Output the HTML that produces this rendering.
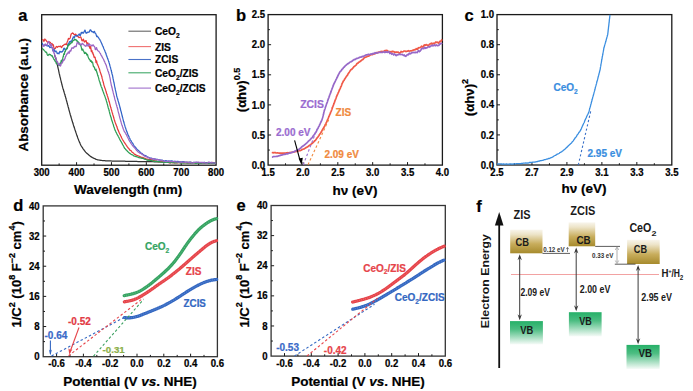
<!DOCTYPE html>
<html><head><meta charset="utf-8"><style>
html,body{margin:0;padding:0;background:#fff;overflow:hidden;}
svg{display:block;font-family:"Liberation Sans", sans-serif;}
</style></head><body>
<svg width="693" height="391" viewBox="0 0 693 391">
<rect width="693" height="391" fill="#fff"/>
<rect x="41.7" y="14.7" width="174.40" height="150.50" fill="none" stroke="#1a1a1a" stroke-width="1.3"/>
<line x1="59.14" y1="165.20" x2="59.14" y2="163.40" stroke="#1a1a1a" stroke-width="1"/>
<line x1="76.58" y1="165.20" x2="76.58" y2="162.20" stroke="#1a1a1a" stroke-width="1"/>
<line x1="94.02" y1="165.20" x2="94.02" y2="163.40" stroke="#1a1a1a" stroke-width="1"/>
<line x1="111.46" y1="165.20" x2="111.46" y2="162.20" stroke="#1a1a1a" stroke-width="1"/>
<line x1="128.90" y1="165.20" x2="128.90" y2="163.40" stroke="#1a1a1a" stroke-width="1"/>
<line x1="146.34" y1="165.20" x2="146.34" y2="162.20" stroke="#1a1a1a" stroke-width="1"/>
<line x1="163.78" y1="165.20" x2="163.78" y2="163.40" stroke="#1a1a1a" stroke-width="1"/>
<line x1="181.22" y1="165.20" x2="181.22" y2="162.20" stroke="#1a1a1a" stroke-width="1"/>
<line x1="198.66" y1="165.20" x2="198.66" y2="163.40" stroke="#1a1a1a" stroke-width="1"/>
<text transform="translate(41.70,175.7) scale(1,1.06)" font-size="9.6" text-anchor="middle" font-weight="bold" fill="#000" stroke="#000" stroke-width="0.22" >300</text>
<text transform="translate(76.58,175.7) scale(1,1.06)" font-size="9.6" text-anchor="middle" font-weight="bold" fill="#000" stroke="#000" stroke-width="0.22" >400</text>
<text transform="translate(111.46,175.7) scale(1,1.06)" font-size="9.6" text-anchor="middle" font-weight="bold" fill="#000" stroke="#000" stroke-width="0.22" >500</text>
<text transform="translate(146.34,175.7) scale(1,1.06)" font-size="9.6" text-anchor="middle" font-weight="bold" fill="#000" stroke="#000" stroke-width="0.22" >600</text>
<text transform="translate(181.22,175.7) scale(1,1.06)" font-size="9.6" text-anchor="middle" font-weight="bold" fill="#000" stroke="#000" stroke-width="0.22" >700</text>
<text transform="translate(216.10,175.7) scale(1,1.06)" font-size="9.6" text-anchor="middle" font-weight="bold" fill="#000" stroke="#000" stroke-width="0.22" >800</text>
<text x="128.25" y="193.8" font-size="13.5" text-anchor="middle" font-weight="bold" fill="#000" stroke="#000" stroke-width="0.22" >Wavelength (nm)</text>
<text transform="translate(27.8,94.8) rotate(-90) scale(1,1.0)" font-size="13.45" text-anchor="middle" font-weight="bold" fill="#000" stroke="#000" stroke-width="0.22">Absorbance (a.u.)</text>
<text x="18.3" y="21" font-size="16.5" text-anchor="start" font-weight="bold" fill="#000" stroke="#000" stroke-width="0.22" >a</text>
<path d="M54.5,54.9L54.6,55.1L54.8,55.5L54.9,55.9L55.1,56.4L55.2,56.9L55.4,57.3L55.6,57.8L55.7,58.3L55.9,58.7L56.1,59.2L56.2,59.7L56.3,60.2L56.4,60.7L56.6,61.1L56.7,61.6L56.8,62.1L56.9,62.6L57.0,63.1L57.1,63.6L57.2,64.1L57.3,64.6L57.4,65.1L57.5,65.5L57.6,66.0L57.7,66.5L57.8,67.0L57.9,67.5L58.0,68.0L58.2,68.5L58.3,69.0L58.4,69.5L58.5,69.9L58.6,70.4L58.7,70.9L58.8,71.4L58.9,71.9L59.0,72.4L59.1,72.9L59.2,73.4L59.3,73.8L59.4,74.3L59.6,74.8L59.7,75.3L59.8,75.8L59.9,76.3L60.0,76.8L60.1,77.3L60.3,77.7L60.4,78.2L60.5,78.7L60.6,79.2L60.7,79.7L60.9,80.2L61.0,80.7L61.1,81.1L61.2,81.6L61.3,82.1L61.4,82.6L61.6,83.1L61.7,83.6L61.8,84.1L61.9,84.5L62.0,85.0L62.2,85.5L62.3,86.0L62.4,86.5L62.6,87.0L62.7,87.4L62.8,87.9L63.0,88.4L63.1,88.9L63.3,89.4L63.4,89.8L63.6,90.3L63.7,90.8L63.8,91.3L64.0,91.8L64.1,92.2L64.3,92.7L64.4,93.2L64.5,93.7L64.7,94.1L64.8,94.6L65.0,95.1L65.1,95.6L65.2,96.1L65.4,96.5L65.5,97.0L65.7,97.5L65.8,98.0L65.9,98.5L66.1,99.0L66.2,99.4L66.3,99.9L66.5,100.4L66.6,100.9L66.7,101.4L66.9,101.8L67.0,102.3L67.1,102.8L67.2,103.3L67.4,103.8L67.5,104.3L67.6,104.7L67.8,105.2L67.9,105.7L68.0,106.2L68.1,106.7L68.3,107.2L68.4,107.6L68.5,108.1L68.7,108.6L68.8,109.1L68.9,109.6L69.0,110.1L69.2,110.5L69.3,111.0L69.4,111.5L69.6,112.0L69.7,112.5L69.8,113.0L70.0,113.4L70.1,113.9L70.2,114.4L70.4,114.9L70.5,115.4L70.7,115.8L70.8,116.3L70.9,116.8L71.1,117.3L71.2,117.8L71.4,118.2L71.5,118.7L71.7,119.2L71.8,119.7L71.9,120.2L72.1,120.6L72.2,121.1L72.4,121.6L72.5,122.1L72.7,122.5L72.8,123.0L73.0,123.5L73.1,124.0L73.3,124.5L73.4,124.9L73.6,125.4L73.7,125.9L73.9,126.4L74.0,126.8L74.2,127.3L74.3,127.8L74.5,128.3L74.7,128.7L74.8,129.2L75.0,129.7L75.1,130.2L75.3,130.6L75.4,131.1L75.6,131.6L75.8,132.1L75.9,132.5L76.1,133.0L76.3,133.5L76.4,133.9L76.6,134.4L76.7,134.9L76.9,135.4L77.1,135.8L77.2,136.3L77.4,136.8L77.6,137.3L77.7,137.7L77.9,138.2L78.1,138.7L78.3,139.1L78.5,139.6L78.6,140.0L78.8,140.5L79.0,141.0L79.2,141.4L79.4,141.9L79.6,142.4L79.8,142.8L80.0,143.3L80.2,143.7L80.4,144.2L80.6,144.7L80.8,145.1L81.0,145.5L81.3,146.0L81.5,146.4L81.8,146.8L82.1,147.2L82.4,147.6L82.7,148.1L82.9,148.5L83.2,148.9L83.5,149.3L83.8,149.7L84.1,150.1L84.4,150.5L84.7,150.9L85.0,151.3L85.3,151.7L85.6,152.1L85.9,152.4L86.3,152.8L86.7,153.1L87.0,153.5L87.4,153.8L87.8,154.1L88.2,154.4L88.5,154.8L88.9,155.1L89.3,155.4L89.7,155.8L90.1,156.1L90.5,156.4L90.9,156.6L91.3,156.9L91.7,157.1L92.2,157.4L92.6,157.6L93.1,157.8L93.5,158.1L94.0,158.3L94.4,158.5L94.8,158.7L95.3,158.9L95.7,159.2L96.2,159.4L96.7,159.5L97.1,159.7L97.6,159.8L98.1,159.9L98.6,160.0L99.1,160.1L99.6,160.2L100.1,160.2L100.6,160.3L101.1,160.4L101.5,160.4L102.0,160.5L102.5,160.6L103.0,160.6L103.5,160.7L104.0,160.7L104.5,160.7L105.0,160.7L105.5,160.8L106.0,160.8L106.5,160.8L107.0,160.8L107.5,160.8L108.0,160.8L108.5,160.9L109.0,160.9L109.5,160.9L110.0,160.9L110.5,160.9L111.0,160.9L111.5,161.0L112.0,161.0L112.5,161.0L113.0,161.0L113.5,161.0L114.0,161.0L114.5,161.0L115.0,161.1L115.5,161.1L116.0,161.1L116.5,161.1L117.0,161.1L117.5,161.1L118.0,161.1L118.5,161.1L119.0,161.1L119.5,161.2L120.0,161.2L120.5,161.2L121.0,161.2L121.5,161.2L122.0,161.2L122.5,161.2L123.0,161.2L123.5,161.2L124.0,161.2L124.5,161.2L125.0,161.2L125.5,161.3L126.0,161.3L126.5,161.3L127.0,161.3L127.5,161.3L128.0,161.3L128.5,161.3L129.0,161.3L129.5,161.3L130.0,161.3L130.5,161.3L131.0,161.3L131.5,161.4L132.0,161.4L132.5,161.4L133.0,161.4L133.5,161.4L134.0,161.4L134.5,161.4L135.0,161.4L135.5,161.4L136.0,161.4L136.5,161.4L137.0,161.4L137.5,161.5L138.0,161.5L138.5,161.5L139.0,161.5L139.5,161.5L140.0,161.5L140.5,161.5L141.0,161.5L141.5,161.5L142.0,161.5L142.5,161.5L143.0,161.6L143.5,161.6L144.0,161.6L144.5,161.6L145.0,161.6L145.5,161.6L146.0,161.6L146.5,161.6L147.0,161.6L147.5,161.6L148.0,161.6L148.5,161.7L149.0,161.7L149.5,161.7L150.0,161.7L150.5,161.7L151.0,161.7L151.5,161.7L152.0,161.7L152.5,161.7L153.0,161.7L153.5,161.7L154.0,161.8L154.5,161.8L155.0,161.8L155.5,161.8L156.0,161.8L156.5,161.8L157.0,161.8L157.5,161.8L158.0,161.8L158.5,161.8L159.0,161.9L159.5,161.9L160.0,161.9L160.5,161.9L161.0,161.9L161.5,161.9L162.0,161.9L162.5,161.9L163.0,161.9L163.5,161.9L164.0,161.9L164.5,162.0L165.0,162.0L165.5,162.0L166.0,162.0L166.5,162.0L167.0,162.0L167.5,162.0L168.0,162.0L168.5,162.0L169.0,162.0L169.5,162.0L170.0,162.1L170.5,162.1L171.0,162.1L171.5,162.1L172.0,162.1L172.5,162.1L173.0,162.1L173.5,162.1L174.0,162.1L174.5,162.1L175.0,162.1L175.5,162.2L176.0,162.2L176.5,162.2L177.0,162.2L177.5,162.2L178.0,162.2L178.5,162.2L179.0,162.2L179.5,162.2L180.0,162.2L180.5,162.2L181.0,162.3L181.5,162.3L182.0,162.3L182.5,162.3L183.0,162.3L183.5,162.3L184.0,162.3L184.5,162.3L185.0,162.3L185.5,162.3L186.0,162.3L186.5,162.4L187.0,162.4L187.5,162.4L188.0,162.4L188.5,162.4L189.0,162.4L189.5,162.4L190.0,162.4L190.5,162.4L191.0,162.4L191.5,162.4L192.0,162.5L192.5,162.5L193.0,162.5L193.5,162.5L194.0,162.5L194.5,162.5L195.0,162.5L195.5,162.5L196.0,162.5L196.5,162.5L197.0,162.6L197.5,162.6L198.0,162.6L198.5,162.6L199.0,162.6L199.5,162.6L200.0,162.6L200.5,162.6L201.0,162.6L201.5,162.6L202.0,162.6L202.5,162.7L203.0,162.7L203.5,162.7L204.0,162.7L204.5,162.7L205.0,162.7L205.5,162.7L206.0,162.7L206.5,162.7L207.0,162.7L207.5,162.7L208.0,162.8L208.5,162.8L209.0,162.8L209.5,162.8L210.0,162.8L210.5,162.8L211.0,162.8L211.5,162.8L212.0,162.8L212.5,162.8L213.0,162.8L213.5,162.9L214.0,162.9L214.5,162.9L214.9,162.9L215.3,162.9L215.6,162.9" fill="none" stroke="#333333" stroke-width="1.25" stroke-linejoin="round"/>
<path d="M42.3,40.0L42.6,39.7L42.9,39.6L43.3,40.0L43.8,41.3L44.2,41.0L44.5,39.9L44.9,39.0L45.3,39.7L45.7,39.9L46.2,40.5L46.6,41.2L47.1,41.8L47.5,42.1L48.0,42.4L48.5,42.2L48.9,41.9L49.4,41.9L49.9,42.5L50.3,42.3L50.8,43.1L51.2,43.6L51.6,43.6L52.0,43.5L52.3,44.5L52.6,45.2L52.9,44.9L53.3,44.7L53.6,46.1L53.9,47.8L54.3,48.5L54.6,48.5L55.1,48.6L55.5,48.2L56.0,46.9L56.5,46.5L57.0,47.0L57.5,47.3L58.0,46.6L58.5,46.3L59.0,46.5L59.5,46.5L60.0,46.2L60.5,46.1L61.0,47.0L61.5,47.5L62.0,47.0L62.4,45.9L62.9,45.6L63.4,45.4L63.8,44.9L64.2,44.7L64.6,44.4L64.9,44.3L65.3,43.9L65.7,44.4L66.0,44.6L66.3,44.7L66.5,44.2L66.8,43.2L67.0,42.6L67.2,41.8L67.4,41.5L67.7,40.6L67.9,40.2L68.2,39.1L68.5,38.4L68.7,38.8L69.0,39.0L69.3,38.9L69.6,38.3L69.9,38.5L70.2,37.8L70.4,37.2L70.7,35.9L71.0,34.7L71.3,33.8L71.7,33.6L72.1,33.3L72.5,32.9L72.9,33.3L73.3,33.4L73.8,34.2L74.2,34.6L74.7,34.9L75.1,34.5L75.6,34.1L76.0,34.5L76.5,35.3L76.9,36.2L77.3,35.7L77.7,35.9L78.0,36.5L78.4,37.0L78.7,37.4L79.1,37.7L79.5,37.5L79.9,37.2L80.2,37.0L80.6,36.9L81.0,37.4L81.4,38.8L81.8,40.3L82.2,40.8L82.6,40.7L83.0,39.6L83.4,39.2L83.8,40.2L84.2,41.8L84.6,42.0L85.0,41.5L85.4,41.0L85.7,40.8L86.1,40.6L86.4,41.8L86.8,43.3L87.1,43.6L87.4,43.1L87.7,42.8L88.0,43.1L88.3,44.0L88.6,45.5L88.9,46.3L89.1,46.0L89.4,46.3L89.6,47.6L89.9,48.4L90.1,47.8L90.4,46.7L90.6,46.7L90.9,48.4L91.1,50.0L91.3,51.3L91.6,50.7L91.8,50.5L92.0,50.7L92.2,52.4L92.4,53.1L92.6,52.4L92.8,52.7L93.0,53.4L93.2,54.6L93.4,54.3L93.6,55.0L93.8,55.9L94.0,57.2L94.2,57.1L94.4,57.3L94.7,57.0L94.9,57.1L95.1,57.2L95.3,58.8L95.5,59.3L95.6,60.0L95.8,60.7L96.0,62.3L96.2,62.2L96.4,61.5L96.6,60.8L96.8,61.9L97.0,63.8L97.1,63.6L97.3,64.0L97.5,64.2L97.7,64.7L97.9,65.3L98.1,65.7L98.3,66.0L98.5,66.5L98.6,67.2L98.8,67.6L99.0,67.9L99.2,68.3L99.3,68.9L99.5,69.3L99.6,69.8L99.8,70.4L99.9,71.0L100.1,71.3L100.2,71.9L100.4,72.4L100.5,72.9L100.7,73.3L100.9,73.8L101.0,74.4L101.2,74.7L101.3,74.9L101.5,75.4L101.6,76.0L101.7,76.5L101.9,76.9L102.0,77.5L102.1,78.1L102.2,78.7L102.4,79.0L102.5,79.4L102.6,79.7L102.7,80.4L102.9,80.9L103.0,81.4L103.1,81.6L103.2,82.1L103.3,82.6L103.5,83.1L103.6,83.6L103.7,84.2L103.9,84.8L104.0,85.3L104.1,85.8L104.3,86.2L104.4,86.6L104.6,87.0L104.7,87.6L104.9,88.1L105.1,88.5L105.2,88.8L105.4,89.4L105.5,89.8L105.7,90.2L105.8,90.7L106.0,91.2L106.1,91.8L106.3,92.4L106.4,93.0L106.6,93.5L106.7,93.9L106.9,94.2L107.0,94.6L107.2,95.1L107.3,95.7L107.5,96.1L107.6,96.5L107.8,97.1L108.0,97.6L108.1,98.1L108.2,98.6L108.4,99.1L108.5,99.5L108.7,99.9L108.8,100.5L108.9,101.1L109.1,101.4L109.2,101.8L109.4,102.2L109.5,102.7L109.6,103.2L109.8,103.8L109.9,104.2L110.0,104.8L110.2,105.5L110.3,106.1L110.5,106.4L110.6,106.9L110.7,107.3L110.9,107.8L111.0,108.2L111.1,108.7L111.3,109.1L111.4,109.7L111.6,110.2L111.7,110.7L111.8,111.2L112.0,111.6L112.1,112.1L112.2,112.5L112.4,113.0L112.5,113.5L112.7,114.2L112.8,114.6L112.9,114.9L113.1,115.4L113.2,115.9L113.4,116.3L113.5,116.7L113.6,117.3L113.8,117.9L113.9,118.3L114.0,118.8L114.2,119.2L114.3,119.7L114.5,120.2L114.7,120.8L114.8,121.4L115.0,121.9L115.2,122.2L115.3,122.7L115.5,123.2L115.7,123.7L115.8,124.1L116.0,124.4L116.2,124.9L116.3,125.3L116.5,125.8L116.7,126.2L116.8,126.6L117.0,127.1L117.2,127.7L117.4,128.3L117.5,128.8L117.7,129.4L117.9,129.7L118.1,130.1L118.3,130.5L118.5,131.1L118.7,131.5L118.9,132.0L119.1,132.5L119.3,132.9L119.5,133.3L119.7,133.8L119.9,134.1L120.1,134.5L120.3,134.9L120.5,135.3L120.7,135.7L120.9,136.1L121.2,136.6L121.4,137.2L121.6,137.8L121.9,138.3L122.1,138.8L122.4,139.3L122.6,139.6L122.9,140.1L123.1,140.4L123.4,140.9L123.7,141.2L123.9,141.7L124.2,142.2L124.5,142.6L124.7,142.9L125.0,143.4L125.3,143.8L125.6,144.1L125.8,144.5L126.1,144.9L126.4,145.4L126.7,145.8L127.0,146.4L127.3,146.7L127.6,147.2L127.9,147.6L128.1,147.9L128.4,148.1L128.8,148.5L129.1,148.9L129.4,149.5L129.8,150.0L130.1,150.3L130.5,150.3L130.8,150.5L131.2,150.9L131.5,151.4L131.9,151.9L132.2,152.3L132.6,152.5L133.0,152.7L133.4,153.0L133.8,153.4L134.2,153.9L134.6,154.3L135.0,154.3L135.5,154.6L135.9,154.9L136.3,155.2L136.7,155.3L137.2,155.5L137.6,155.6L138.1,155.9L138.6,156.0L139.0,156.2L139.5,156.4L139.9,156.7L140.4,156.9L140.9,157.2L141.4,157.3L141.8,157.3L142.3,157.4L142.8,157.7L143.3,157.7L143.7,157.9L144.2,158.0L144.7,158.3L145.2,158.4L145.7,158.6L146.1,158.8L146.6,159.0L147.1,159.2L147.6,159.2L148.0,159.5L148.5,159.6L149.0,159.7L149.5,159.5L150.0,159.4L150.5,159.6L151.0,159.7L151.5,159.9L152.0,159.9L152.5,160.0L152.9,160.2L153.4,160.4L153.9,160.6L154.4,160.8L154.9,160.8L155.4,160.8L155.9,160.9L156.4,161.0L156.9,161.2L157.4,161.3L157.9,161.6L158.4,161.7L158.8,161.4L159.3,161.4L159.8,161.6L160.3,161.7L160.8,161.7L161.3,161.7L161.8,161.6L162.3,161.6L162.8,161.6L163.3,161.9L163.8,162.3L164.3,162.4L164.8,162.1L165.3,162.1L165.8,162.3L166.3,162.4L166.8,162.2L167.3,162.1L167.8,162.2L168.3,162.5L168.8,162.7L169.3,162.9L169.8,162.8L170.3,162.6L170.8,162.5L171.3,162.5L171.8,162.5L172.3,162.7L172.8,162.8L173.3,162.7L173.8,162.5L174.3,162.7L174.8,163.0L175.3,163.0L175.8,162.6L176.3,162.5L176.8,162.8L177.3,163.0L177.8,162.9L178.3,162.7L178.8,162.7L179.3,162.6L179.8,162.7L180.3,162.7L180.8,162.7L181.3,162.6L181.8,162.7L182.3,162.7L182.8,162.4L183.3,162.6L183.8,162.7L184.3,162.9L184.8,162.9L185.3,162.9L185.8,162.7L186.3,162.7L186.8,162.9L187.3,163.1L187.8,163.0L188.3,163.0L188.8,162.8L189.3,162.9L189.8,163.1L190.3,163.2L190.8,163.0L191.3,162.8L191.8,162.8L192.3,162.8L192.8,162.8L193.3,162.7L193.8,162.7L194.3,162.7L194.8,162.9L195.3,162.9L195.8,162.8L196.3,162.5L196.8,162.5L197.3,162.5L197.8,162.8L198.3,163.2L198.8,163.2L199.3,163.0L199.8,163.0L200.3,163.1L200.8,163.1L201.3,163.0L201.8,162.8L202.3,162.9L202.8,162.8L203.3,162.8L203.8,162.9L204.3,163.1L204.8,163.0L205.3,162.9L205.8,163.1L206.3,163.2L206.8,162.9L207.3,162.9L207.8,162.7L208.3,162.9L208.8,163.0L209.3,163.0L209.8,162.9L210.3,162.9L210.8,162.9L211.3,162.7L211.8,162.5L212.3,162.5L212.8,162.4L213.3,162.5L213.7,162.8L214.2,163.0L214.7,163.2L215.1,163.2L215.5,163.2L215.7,163.2" fill="none" stroke="#e63c3c" stroke-width="1.25" stroke-linejoin="round"/>
<path d="M42.2,43.1L42.4,43.6L42.7,44.5L43.0,44.6L43.3,45.4L43.7,45.5L44.1,45.9L44.5,45.6L44.9,44.9L45.3,44.3L45.8,44.9L46.3,45.7L46.8,45.7L47.3,45.8L47.7,45.9L48.2,46.1L48.6,45.5L49.1,46.2L49.5,46.9L49.9,47.6L50.3,47.4L50.7,47.1L51.1,46.9L51.4,47.3L51.8,47.5L52.2,47.6L52.5,48.9L52.9,50.8L53.2,51.2L53.6,49.8L54.0,49.0L54.4,50.1L54.8,51.7L55.2,51.8L55.6,51.5L56.0,51.0L56.4,51.6L56.8,52.1L57.2,53.7L57.7,53.4L58.1,53.2L58.5,53.1L59.0,53.9L59.4,52.6L59.9,51.3L60.3,51.5L60.8,52.1L61.3,52.1L61.7,51.6L62.2,51.9L62.7,51.4L63.2,50.3L63.6,48.9L64.1,48.2L64.5,48.3L64.8,49.3L65.2,50.1L65.5,50.3L65.8,49.5L66.1,49.0L66.4,48.6L66.7,48.8L67.0,48.9L67.3,48.4L67.6,46.8L67.8,45.2L68.1,43.8L68.3,43.8L68.6,44.3L68.9,44.0L69.1,42.7L69.4,41.7L69.7,41.7L69.9,42.1L70.2,41.9L70.5,41.8L70.8,41.1L71.1,41.0L71.4,41.1L71.7,41.5L72.0,40.4L72.3,39.5L72.6,38.6L72.9,37.9L73.2,36.8L73.6,36.8L74.0,37.8L74.4,37.7L74.8,36.4L75.2,35.8L75.6,35.6L76.0,35.6L76.5,35.6L76.9,36.1L77.4,35.7L77.8,35.5L78.3,34.8L78.8,34.5L79.3,34.0L79.7,35.2L80.2,35.6L80.6,34.8L81.1,33.0L81.4,32.3L81.8,33.1L82.2,33.0L82.5,32.4L82.9,32.4L83.2,33.2L83.6,32.9L83.9,32.3L84.2,31.5L84.6,30.7L84.9,30.1L85.3,30.9L85.7,32.3L86.1,33.1L86.6,33.2L87.0,32.8L87.5,32.3L87.9,32.0L88.4,32.0L88.8,32.3L89.2,32.0L89.7,30.9L90.2,29.9L90.6,29.9L91.1,30.5L91.5,31.6L92.0,31.7L92.5,31.7L92.9,32.0L93.4,32.7L93.8,32.1L94.2,31.4L94.6,31.6L95.0,32.9L95.3,33.5L95.7,33.7L96.0,34.1L96.4,35.6L96.7,36.6L97.0,36.0L97.4,36.2L97.7,36.6L98.0,37.0L98.3,37.4L98.6,37.8L98.9,38.3L99.1,38.8L99.4,39.1L99.7,39.4L99.9,39.8L100.1,40.3L100.4,40.7L100.6,41.0L100.8,41.4L101.0,42.0L101.3,42.6L101.5,43.1L101.7,43.5L101.9,43.9L102.1,44.4L102.3,44.9L102.5,45.5L102.7,45.9L102.9,46.2L103.1,46.6L103.3,47.1L103.5,47.7L103.7,48.3L103.9,48.6L104.0,49.0L104.2,49.3L104.4,49.8L104.6,50.2L104.8,50.7L105.0,51.2L105.1,51.7L105.3,52.1L105.5,52.5L105.7,52.9L105.9,53.4L106.0,54.0L106.2,54.6L106.4,55.2L106.6,55.7L106.7,56.1L106.9,56.5L107.1,57.0L107.3,57.5L107.4,57.9L107.6,58.4L107.8,58.8L107.9,59.3L108.1,59.8L108.3,60.2L108.4,60.6L108.5,60.9L108.7,61.4L108.8,61.8L109.0,62.3L109.1,62.7L109.3,63.3L109.4,63.8L109.6,64.4L109.7,65.0L109.9,65.6L110.0,65.9L110.1,66.4L110.3,67.0L110.4,67.5L110.6,67.9L110.7,68.4L110.8,68.8L110.9,69.2L111.1,69.9L111.2,70.5L111.3,70.9L111.4,71.1L111.5,71.6L111.7,72.4L111.8,73.0L111.9,73.4L112.0,73.7L112.1,74.2L112.2,74.6L112.4,75.0L112.5,75.4L112.6,75.9L112.7,76.5L112.8,77.0L112.9,77.6L113.0,78.1L113.1,78.7L113.2,79.2L113.3,79.7L113.4,80.2L113.5,80.6L113.6,80.9L113.7,81.5L113.8,82.0L113.9,82.5L114.0,82.9L114.1,83.3L114.2,83.7L114.3,84.3L114.4,84.7L114.5,85.3L114.6,85.9L114.7,86.4L114.8,86.8L114.9,87.4L115.0,88.0L115.1,88.5L115.2,89.0L115.3,89.4L115.4,89.7L115.5,90.1L115.6,90.7L115.8,91.4L115.9,91.8L116.0,92.3L116.1,92.8L116.2,93.3L116.3,93.7L116.4,94.1L116.5,94.6L116.6,95.3L116.7,95.9L116.8,96.4L116.9,96.8L117.1,97.3L117.2,97.6L117.3,98.0L117.5,98.5L117.6,99.0L117.7,99.4L117.9,99.7L118.0,100.4L118.2,100.9L118.3,101.4L118.4,101.8L118.6,102.2L118.7,102.7L118.8,103.3L119.0,103.9L119.1,104.4L119.3,104.7L119.4,105.1L119.5,105.5L119.7,106.0L119.8,106.6L119.9,107.3L120.1,107.9L120.2,108.3L120.3,108.6L120.4,109.1L120.6,109.7L120.7,110.3L120.8,110.8L120.9,111.2L121.1,111.5L121.2,111.9L121.3,112.5L121.4,113.0L121.6,113.4L121.7,113.9L121.8,114.3L121.9,114.8L122.0,115.5L122.2,116.0L122.3,116.5L122.4,116.9L122.5,117.4L122.7,117.6L122.8,118.1L122.9,118.7L123.0,119.2L123.2,119.6L123.3,120.3L123.4,120.9L123.6,121.3L123.7,121.8L123.9,122.4L124.0,123.0L124.1,123.3L124.3,123.7L124.4,124.2L124.6,124.8L124.7,125.2L124.9,125.7L125.0,126.2L125.1,126.7L125.3,127.2L125.4,127.5L125.6,127.9L125.7,128.3L125.9,128.9L126.1,129.4L126.2,129.9L126.4,130.4L126.6,130.9L126.7,131.3L126.9,131.8L127.1,132.4L127.3,132.8L127.4,133.3L127.6,133.7L127.8,134.2L128.0,134.5L128.1,134.9L128.3,135.4L128.6,135.9L128.8,136.4L129.0,136.8L129.2,137.3L129.4,137.7L129.7,138.2L129.9,138.7L130.1,139.2L130.3,139.6L130.5,140.0L130.8,140.4L131.0,140.7L131.3,141.1L131.5,141.6L131.8,142.1L132.1,142.4L132.3,142.8L132.6,143.2L132.9,143.6L133.2,144.2L133.5,144.8L133.8,145.3L134.0,145.6L134.3,146.0L134.6,146.3L135.0,146.8L135.3,147.1L135.6,147.4L135.9,147.8L136.2,148.2L136.5,148.6L136.9,149.1L137.2,149.5L137.5,149.8L137.9,150.0L138.2,150.3L138.6,150.6L139.0,151.0L139.3,151.4L139.7,151.8L140.1,152.0L140.5,152.5L140.9,153.0L141.3,153.3L141.7,153.3L142.1,153.6L142.5,153.9L142.9,154.4L143.3,154.6L143.7,154.9L144.1,155.2L144.5,155.4L144.9,155.4L145.3,155.5L145.8,155.7L146.2,156.0L146.6,156.5L147.1,156.8L147.6,156.9L148.0,157.0L148.5,157.4L149.0,157.7L149.4,157.7L149.9,158.0L150.4,158.1L150.9,158.0L151.3,158.0L151.8,158.3L152.3,158.8L152.8,158.8L153.3,158.8L153.8,158.8L154.3,159.1L154.7,159.2L155.2,159.2L155.7,159.0L156.2,159.3L156.7,159.4L157.2,159.6L157.7,159.4L158.2,159.8L158.6,159.9L159.1,159.9L159.6,159.9L160.1,160.1L160.6,160.2L161.1,160.2L161.6,160.2L162.1,160.2L162.6,160.4L163.1,160.5L163.6,160.7L164.1,161.0L164.6,161.1L165.1,160.9L165.6,160.6L166.1,160.7L166.6,160.8L167.1,161.0L167.6,161.0L168.1,161.2L168.6,161.2L169.1,160.9L169.6,161.0L170.1,161.0L170.6,161.1L171.1,160.9L171.6,160.9L172.1,160.9L172.6,161.2L173.1,161.5L173.6,161.6L174.1,161.4L174.6,161.4L175.1,161.4L175.6,161.3L176.0,161.4L176.5,161.5L177.0,161.4L177.5,161.3L178.0,161.3L178.5,161.5L179.0,161.7L179.5,161.9L180.0,161.8L180.5,162.0L181.0,162.1L181.5,162.0L182.0,161.8L182.5,161.7L183.0,161.6L183.5,161.6L184.0,161.8L184.5,162.1L185.0,162.3L185.5,162.4L186.0,162.4L186.5,162.4L187.0,162.5L187.5,162.7L188.0,162.6L188.5,162.5L189.0,162.4L189.5,162.4L190.0,162.2L190.5,162.3L191.0,162.6L191.5,162.8L192.0,162.8L192.5,162.7L193.0,162.6L193.5,162.4L194.0,162.3L194.5,162.4L195.0,162.7L195.5,162.8L196.0,162.5L196.5,162.4L197.0,162.6L197.5,162.7L198.0,162.7L198.5,162.5L199.0,162.6L199.5,162.8L200.0,162.8L200.5,162.7L201.0,162.6L201.5,162.8L202.0,162.6L202.5,162.6L203.0,162.5L203.5,162.6L204.0,162.4L204.5,162.6L205.0,162.6L205.5,162.6L206.0,162.5L206.5,162.5L207.0,162.5L207.5,162.6L208.0,162.8L208.5,163.0L209.0,162.8L209.5,162.7L210.0,162.5L210.5,162.5L211.0,162.4L211.5,162.7L212.0,162.9L212.5,163.0L213.0,162.8L213.5,162.6L214.0,162.7L214.5,163.1L214.9,163.3L215.3,163.2L215.6,163.0" fill="none" stroke="#3264c8" stroke-width="1.25" stroke-linejoin="round"/>
<path d="M42.2,48.0L42.4,48.2L42.7,48.7L43.0,49.5L43.3,49.5L43.7,49.5L44.0,50.1L44.4,50.6L44.7,50.9L45.1,51.2L45.4,52.1L45.8,52.2L46.1,52.2L46.5,52.2L46.9,53.4L47.2,54.5L47.6,55.3L48.0,55.5L48.3,54.9L48.8,54.8L49.2,54.1L49.6,54.7L50.1,54.5L50.5,54.6L50.9,55.1L51.4,55.8L51.7,55.9L52.1,55.6L52.4,56.2L52.8,57.2L53.1,57.6L53.4,58.3L53.7,58.9L54.0,59.6L54.4,59.7L54.7,60.5L55.0,61.1L55.3,61.1L55.6,61.2L55.9,62.4L56.2,63.4L56.6,63.8L56.9,63.5L57.2,63.7L57.5,63.5L57.9,63.9L58.2,64.5L58.6,65.0L59.0,65.7L59.4,65.5L59.7,64.5L60.0,63.1L60.3,63.3L60.6,63.6L60.8,62.5L61.1,61.0L61.4,60.2L61.6,61.1L61.9,62.2L62.1,62.8L62.3,61.7L62.5,60.8L62.6,59.5L62.8,58.3L62.9,57.5L63.0,57.4L63.1,56.5L63.2,56.5L63.3,56.6L63.4,56.5L63.5,55.1L63.7,54.3L63.9,53.6L64.0,54.0L64.3,54.4L64.5,53.9L64.7,52.1L64.9,51.6L65.1,51.3L65.4,51.5L65.6,50.1L65.8,49.9L66.0,49.5L66.3,49.6L66.5,48.8L66.7,48.3L66.9,47.9L67.2,48.3L67.4,47.8L67.6,46.6L67.9,44.9L68.2,45.3L68.4,45.7L68.7,45.5L69.1,44.4L69.4,44.1L69.7,44.5L70.0,43.7L70.3,43.4L70.6,43.6L70.9,43.1L71.2,42.4L71.6,42.3L71.9,42.8L72.3,42.1L72.6,40.9L73.0,40.6L73.5,40.7L73.9,40.5L74.3,39.2L74.8,39.4L75.2,39.7L75.6,39.8L75.9,39.5L76.2,40.3L76.5,40.8L76.7,40.5L76.9,40.4L77.2,40.8L77.4,41.7L77.6,42.4L77.9,42.5L78.1,42.2L78.3,41.8L78.6,42.2L78.9,42.5L79.2,43.5L79.5,44.2L79.8,44.7L80.0,44.3L80.3,44.6L80.6,45.2L80.8,45.9L81.1,46.6L81.4,47.6L81.6,48.9L81.9,50.2L82.1,50.0L82.4,49.0L82.7,49.0L83.0,49.8L83.3,50.9L83.6,51.0L83.9,51.9L84.2,52.3L84.5,53.5L84.8,52.9L85.1,52.3L85.4,52.7L85.7,53.4L86.0,53.2L86.3,53.1L86.6,54.4L86.8,55.0L87.1,54.7L87.4,54.3L87.7,55.2L88.0,56.6L88.3,57.4L88.6,58.3L88.9,58.6L89.2,59.4L89.5,59.1L89.8,59.6L90.1,60.6L90.4,61.4L90.7,61.0L91.0,60.5L91.3,61.0L91.5,61.9L91.8,62.5L92.1,62.3L92.4,62.0L92.6,62.4L92.9,63.9L93.2,65.3L93.4,66.3L93.7,66.4L93.9,67.0L94.1,67.0L94.3,67.1L94.5,67.4L94.7,68.7L94.9,69.1L95.1,69.5L95.3,69.6L95.5,70.3L95.7,69.7L95.9,69.2L96.2,70.0L96.4,71.0L96.6,72.0L96.8,71.7L96.9,72.2L97.1,73.1L97.3,73.7L97.5,74.3L97.6,74.9L97.7,75.3L97.9,75.8L98.0,76.1L98.2,76.5L98.3,76.8L98.5,77.3L98.6,77.9L98.8,78.6L98.9,79.1L99.0,79.7L99.2,80.2L99.3,80.7L99.5,81.2L99.6,81.5L99.8,81.8L99.9,82.1L100.0,82.8L100.2,83.4L100.3,83.9L100.5,84.3L100.6,84.8L100.8,85.4L101.0,85.8L101.1,86.2L101.3,86.7L101.5,87.1L101.6,87.4L101.8,87.8L102.0,88.3L102.2,88.9L102.3,89.5L102.5,90.1L102.7,90.5L102.9,90.9L103.0,91.2L103.2,91.7L103.4,92.2L103.6,92.8L103.7,93.3L103.9,93.7L104.1,94.2L104.3,94.6L104.4,95.0L104.6,95.4L104.8,96.0L105.0,96.4L105.1,96.9L105.3,97.5L105.5,98.0L105.6,98.4L105.8,98.9L105.9,99.3L106.1,99.8L106.2,100.2L106.3,100.7L106.5,101.1L106.6,101.6L106.7,102.0L106.9,102.4L107.0,102.8L107.1,103.4L107.3,104.0L107.4,104.5L107.5,105.0L107.7,105.4L107.8,105.9L107.9,106.3L108.1,107.1L108.2,107.7L108.4,108.2L108.5,108.6L108.6,108.8L108.8,109.3L108.9,109.7L109.0,110.3L109.2,110.8L109.3,111.4L109.4,111.9L109.6,112.4L109.7,113.0L109.8,113.6L110.0,114.0L110.1,114.4L110.2,114.9L110.4,115.5L110.5,116.0L110.6,116.4L110.8,116.6L110.9,117.0L111.0,117.5L111.2,118.0L111.3,118.5L111.4,119.1L111.6,119.7L111.7,120.1L111.9,120.4L112.0,120.9L112.2,121.3L112.3,121.8L112.5,122.2L112.6,122.8L112.8,123.2L112.9,123.7L113.1,124.0L113.3,124.5L113.4,125.1L113.6,125.7L113.7,126.3L113.9,126.6L114.0,127.0L114.2,127.5L114.4,128.2L114.5,128.7L114.7,129.1L114.9,129.6L115.0,130.1L115.2,130.4L115.4,130.8L115.6,131.3L115.9,131.9L116.1,132.4L116.3,132.6L116.5,132.9L116.7,133.5L117.0,134.1L117.2,134.5L117.4,134.7L117.6,135.1L117.9,135.5L118.1,136.0L118.3,136.5L118.5,136.9L118.8,137.3L119.0,137.7L119.2,138.2L119.5,138.7L119.7,139.3L120.0,139.7L120.2,140.2L120.5,140.5L120.7,141.0L120.9,141.4L121.2,141.8L121.4,142.2L121.7,142.6L121.9,143.1L122.2,143.7L122.4,144.2L122.7,144.6L122.9,145.0L123.2,145.5L123.4,145.9L123.6,146.3L123.9,146.8L124.1,147.4L124.4,147.9L124.6,148.3L124.9,148.6L125.2,148.8L125.5,149.2L125.8,149.7L126.2,149.9L126.5,150.2L126.9,150.7L127.2,151.1L127.6,151.4L127.9,151.7L128.3,152.0L128.6,152.4L129.0,152.7L129.4,153.1L129.8,153.4L130.2,153.6L130.6,153.9L131.1,154.3L131.5,154.6L131.9,154.7L132.3,154.8L132.8,155.0L133.2,155.4L133.6,155.8L134.1,156.0L134.6,156.0L135.0,156.1L135.5,156.5L136.0,156.7L136.4,156.7L136.9,156.8L137.4,157.0L137.8,157.2L138.3,157.3L138.8,157.6L139.3,157.7L139.8,157.8L140.2,158.0L140.7,157.9L141.2,158.0L141.7,158.3L142.2,158.4L142.7,158.4L143.1,158.3L143.6,158.6L144.1,158.9L144.6,159.1L145.1,159.3L145.5,159.4L146.0,159.5L146.5,159.7L147.0,160.1L147.5,160.2L148.0,160.3L148.5,160.1L149.0,160.0L149.4,160.1L149.9,160.3L150.4,160.4L150.9,160.4L151.4,160.5L151.9,160.8L152.4,160.8L152.9,161.0L153.4,161.0L153.9,161.3L154.4,161.2L154.9,161.4L155.4,161.4L155.9,161.3L156.4,161.2L156.9,161.4L157.4,161.5L157.9,161.6L158.4,161.6L158.9,161.9L159.4,161.7L159.8,161.8L160.3,162.0L160.8,162.1L161.3,162.2L161.8,162.2L162.3,162.3L162.8,162.0L163.3,162.0L163.8,162.2L164.3,162.4L164.8,162.4L165.3,162.4L165.8,162.4L166.3,162.3L166.8,162.3L167.3,162.4L167.8,162.4L168.3,162.3L168.8,162.3L169.3,162.2L169.8,162.6L170.3,162.8L170.8,162.8L171.3,162.5L171.8,162.4L172.3,162.3L172.8,162.6L173.3,162.7L173.8,162.8L174.3,162.8L174.8,162.9L175.3,162.7L175.8,162.7L176.3,162.8L176.8,162.9L177.3,162.5L177.8,162.3L178.3,162.5L178.8,162.7L179.3,162.7L179.8,162.8L180.3,162.9L180.8,163.1L181.3,163.0L181.8,162.8L182.3,162.8L182.8,163.1L183.3,163.2L183.8,163.0L184.3,162.9L184.8,162.8L185.3,162.7L185.8,162.8L186.3,163.0L186.8,163.0L187.3,162.9L187.8,163.0L188.3,163.1L188.8,162.9L189.3,162.9L189.8,162.9L190.3,163.1L190.8,162.9L191.3,162.8L191.8,162.7L192.3,162.8L192.8,162.9L193.3,162.8L193.8,162.7L194.3,162.6L194.8,162.9L195.3,163.2L195.8,163.4L196.3,163.3L196.8,163.2L197.3,162.9L197.8,163.0L198.3,162.9L198.8,163.1L199.3,163.0L199.8,163.1L200.3,162.9L200.8,163.0L201.3,163.0L201.8,162.9L202.3,162.7L202.8,162.9L203.3,163.0L203.8,163.0L204.3,162.8L204.8,162.9L205.3,163.1L205.8,163.0L206.3,163.0L206.8,162.9L207.3,162.9L207.8,162.6L208.3,162.7L208.8,163.0L209.3,163.4L209.8,163.4L210.3,163.1L210.8,162.8L211.3,162.8L211.8,162.9L212.3,162.8L212.8,163.0L213.3,163.2L213.8,163.0L214.3,162.8L214.7,163.0L215.2,163.3L215.5,163.4L215.7,163.4" fill="none" stroke="#2e9e55" stroke-width="1.25" stroke-linejoin="round"/>
<path d="M42.2,46.0L42.5,45.9L42.8,46.0L43.2,46.3L43.6,45.4L44.0,45.8L44.4,45.2L44.8,44.8L45.2,44.0L45.6,45.0L46.0,44.8L46.4,44.8L46.8,45.1L47.1,44.8L47.5,43.8L47.9,42.3L48.3,42.1L48.7,41.3L49.0,42.5L49.4,43.1L49.7,44.4L50.0,44.7L50.3,45.6L50.6,45.0L50.8,44.0L51.1,44.0L51.4,44.7L51.6,45.8L51.8,46.3L52.0,47.1L52.2,47.9L52.3,48.8L52.5,48.4L52.7,47.6L52.8,48.1L53.0,49.4L53.1,50.5L53.3,50.8L53.5,51.4L53.6,51.6L53.8,52.3L53.9,53.1L54.1,53.3L54.2,53.1L54.4,53.3L54.6,54.6L54.7,55.0L54.9,55.3L55.0,55.8L55.2,57.3L55.4,57.6L55.5,57.8L55.7,57.4L55.9,57.9L56.0,57.8L56.2,59.2L56.4,59.9L56.6,61.1L56.8,61.0L57.0,61.9L57.3,62.0L57.5,62.1L57.7,62.0L57.9,63.2L58.2,64.5L58.5,65.0L58.8,64.1L59.1,63.8L59.4,63.9L59.8,64.8L60.2,65.6L60.5,66.0L60.8,65.4L61.1,64.0L61.4,63.4L61.7,62.6L62.0,62.7L62.2,62.3L62.5,62.7L62.8,61.6L63.0,60.5L63.2,59.9L63.5,60.4L63.7,60.6L63.9,60.4L64.1,60.0L64.4,59.8L64.6,59.0L64.8,59.0L65.0,58.6L65.3,57.5L65.5,56.0L65.8,56.0L66.0,56.1L66.3,55.2L66.6,54.1L66.9,53.9L67.2,54.1L67.6,53.8L67.9,53.1L68.2,52.3L68.5,52.0L68.8,52.5L69.1,53.2L69.4,53.1L69.7,51.4L70.1,50.4L70.4,50.4L70.8,51.1L71.1,50.3L71.5,48.8L71.8,48.0L72.2,47.6L72.5,48.0L72.9,48.2L73.2,48.3L73.6,48.0L73.9,47.0L74.3,47.1L74.7,46.4L75.0,46.7L75.4,46.2L75.8,46.7L76.2,46.7L76.5,45.4L76.9,43.3L77.3,42.4L77.8,42.5L78.2,43.2L78.7,43.5L79.1,44.4L79.6,44.2L80.1,43.9L80.6,44.3L81.1,45.2L81.6,44.8L82.1,43.3L82.5,43.3L83.0,44.1L83.5,44.5L84.0,44.9L84.5,45.3L85.0,45.9L85.5,46.1L86.0,46.3L86.5,45.1L86.9,44.4L87.4,44.7L87.9,46.0L88.4,45.6L88.9,44.2L89.4,43.9L89.9,45.2L90.4,45.2L90.9,45.0L91.4,45.3L91.9,46.2L92.4,45.5L92.8,45.0L93.2,44.8L93.6,45.8L93.9,46.2L94.3,46.2L94.6,46.7L95.0,48.2L95.3,49.5L95.7,49.7L96.0,48.8L96.3,47.6L96.6,47.6L97.0,49.3L97.3,49.9L97.6,50.3L97.9,50.7L98.2,50.9L98.5,51.2L98.9,51.4L99.2,51.8L99.5,52.3L99.7,52.6L100.0,53.0L100.3,53.4L100.6,53.9L100.8,54.5L101.1,55.1L101.3,55.5L101.6,55.8L101.9,56.4L102.1,56.9L102.4,57.3L102.6,57.6L102.8,58.1L103.0,58.4L103.2,58.8L103.5,59.3L103.7,59.8L103.9,60.3L104.1,60.9L104.3,61.3L104.5,61.5L104.7,61.8L104.9,62.4L105.1,62.9L105.3,63.4L105.5,63.8L105.7,64.2L105.9,64.6L106.1,65.1L106.3,65.7L106.4,66.1L106.6,66.6L106.8,67.2L106.9,67.7L107.1,68.3L107.3,68.6L107.4,69.0L107.6,69.4L107.7,70.1L107.9,70.7L108.1,71.2L108.2,71.6L108.4,72.1L108.6,72.6L108.7,73.1L108.9,73.6L109.0,74.0L109.2,74.4L109.3,74.7L109.4,75.1L109.5,75.7L109.6,76.3L109.7,76.7L109.8,77.0L109.9,77.4L110.0,77.9L110.1,78.4L110.2,78.9L110.3,79.4L110.4,80.0L110.4,80.6L110.5,81.2L110.6,81.6L110.7,82.1L110.8,82.4L110.9,82.8L111.0,83.5L111.1,84.0L111.2,84.5L111.3,85.0L111.4,85.6L111.6,86.0L111.7,86.4L111.8,87.0L111.9,87.4L112.0,87.8L112.2,88.3L112.3,88.8L112.4,89.3L112.5,89.8L112.6,90.4L112.8,90.8L112.9,91.2L113.0,91.6L113.1,92.1L113.2,92.7L113.4,93.4L113.5,93.8L113.6,94.2L113.7,94.7L113.9,95.2L114.0,95.6L114.1,96.1L114.2,96.6L114.4,97.1L114.5,97.6L114.6,98.1L114.7,98.7L114.9,99.3L115.0,99.9L115.1,100.2L115.3,100.5L115.4,100.9L115.5,101.4L115.7,102.0L115.8,102.5L115.9,103.1L116.1,103.7L116.2,104.0L116.3,104.4L116.5,105.0L116.6,105.5L116.7,105.9L116.9,106.3L117.0,106.9L117.1,107.3L117.3,107.7L117.4,108.1L117.5,108.6L117.6,109.1L117.8,109.6L117.9,110.1L118.0,110.7L118.1,111.2L118.3,111.9L118.4,112.3L118.5,112.6L118.6,113.0L118.8,113.5L118.9,114.0L119.0,114.5L119.1,115.0L119.2,115.4L119.4,116.0L119.5,116.4L119.6,116.8L119.7,117.4L119.9,117.9L120.0,118.4L120.1,118.8L120.3,119.3L120.4,119.7L120.5,120.2L120.7,120.8L120.8,121.4L121.0,121.7L121.1,122.2L121.3,122.8L121.4,123.4L121.6,123.9L121.7,124.4L121.9,124.9L122.0,125.4L122.2,125.7L122.3,126.1L122.5,126.6L122.6,127.0L122.8,127.4L123.0,128.0L123.1,128.6L123.3,128.9L123.4,129.2L123.6,129.6L123.8,130.2L124.1,130.9L124.3,131.4L124.5,131.7L124.8,132.0L125.0,132.4L125.3,132.7L125.5,133.2L125.8,133.7L126.0,134.2L126.3,134.5L126.5,134.9L126.8,135.4L127.0,136.1L127.2,136.5L127.4,136.8L127.7,137.2L127.9,137.8L128.1,138.3L128.4,138.8L128.6,139.2L128.8,139.6L129.0,140.1L129.3,140.6L129.5,141.0L129.8,141.4L130.0,141.8L130.3,142.2L130.6,142.6L130.9,143.1L131.1,143.5L131.4,143.9L131.7,144.3L132.0,144.8L132.3,145.2L132.6,145.5L132.9,145.9L133.2,146.4L133.5,146.8L133.8,147.0L134.1,147.3L134.4,147.7L134.7,148.0L135.1,148.3L135.4,148.8L135.7,149.3L136.0,149.8L136.4,150.1L136.7,150.5L137.1,150.9L137.5,151.3L137.8,151.7L138.2,152.0L138.6,152.3L139.0,152.5L139.4,152.9L139.8,153.1L140.2,153.3L140.6,153.2L141.0,153.4L141.4,153.9L141.9,154.4L142.3,154.6L142.7,154.5L143.2,154.8L143.6,155.3L144.0,155.8L144.5,156.1L144.9,156.2L145.3,156.3L145.8,156.5L146.2,156.7L146.7,156.7L147.1,157.1L147.5,157.5L148.0,157.7L148.5,157.7L149.0,157.9L149.4,158.1L149.9,158.4L150.4,158.3L150.9,158.5L151.4,158.5L151.9,158.6L152.4,158.5L152.9,158.6L153.4,158.7L153.8,158.8L154.3,158.7L154.8,159.1L155.3,159.4L155.8,159.6L156.3,159.5L156.8,159.7L157.3,159.7L157.8,159.5L158.3,159.6L158.8,160.0L159.2,160.1L159.7,160.0L160.2,160.0L160.7,160.3L161.2,160.6L161.7,160.5L162.2,160.4L162.7,160.6L163.2,160.9L163.7,161.1L164.1,161.0L164.6,161.1L165.1,161.2L165.6,161.6L166.1,161.5L166.6,161.5L167.1,161.5L167.6,161.4L168.1,161.1L168.6,161.1L169.1,161.5L169.6,161.7L170.1,161.6L170.6,161.3L171.1,161.3L171.6,161.6L172.1,161.7L172.6,161.7L173.1,161.5L173.6,161.5L174.1,161.4L174.6,161.6L175.1,161.9L175.6,162.0L176.1,161.8L176.6,161.8L177.1,162.0L177.6,162.0L178.1,162.1L178.6,162.2L179.1,162.2L179.6,161.9L180.1,161.9L180.6,162.1L181.1,162.3L181.6,162.3L182.1,162.1L182.6,162.0L183.1,162.1L183.6,162.2L184.1,162.0L184.6,162.0L185.1,162.3L185.6,162.4L186.1,162.3L186.6,162.1L187.1,162.1L187.6,162.2L188.1,162.4L188.6,162.7L189.1,162.7L189.6,162.7L190.1,162.5L190.6,162.4L191.1,162.6L191.6,162.9L192.1,162.9L192.6,162.9L193.1,162.7L193.6,162.5L194.1,162.4L194.6,162.5L195.1,162.4L195.6,162.2L196.1,162.2L196.6,162.3L197.1,162.1L197.6,162.1L198.1,162.1L198.6,162.2L199.1,162.4L199.6,162.6L200.1,162.4L200.6,162.4L201.1,162.5L201.6,162.4L202.1,162.2L202.6,162.5L203.1,162.9L203.6,162.8L204.1,162.4L204.6,162.3L205.1,162.7L205.6,163.0L206.1,163.0L206.6,163.0L207.1,163.0L207.6,162.7L208.1,162.4L208.6,162.1L209.1,162.1L209.6,162.4L210.1,162.9L210.6,163.1L211.1,162.7L211.6,162.4L212.1,162.5L212.6,162.9L213.1,163.0L213.6,162.9L214.1,162.9L214.6,162.9L215.0,163.0L215.4,163.0L215.6,162.8" fill="none" stroke="#9c66c4" stroke-width="1.25" stroke-linejoin="round"/>
<line x1="128.4" y1="31.2" x2="151" y2="31.2" stroke="#666666" stroke-width="1.1"/>
<text x="155" y="35.1" font-size="10.2" text-anchor="start" font-weight="bold" fill="#000" stroke="#000" stroke-width="0.22" >CeO<tspan font-size="6.6" dy="2.9">2</tspan></text>
<line x1="128.4" y1="46.6" x2="151" y2="46.6" stroke="#f07070" stroke-width="1.1"/>
<text x="155" y="50.5" font-size="10.2" text-anchor="start" font-weight="bold" fill="#000" stroke="#000" stroke-width="0.22" >ZIS</text>
<line x1="128.4" y1="59.5" x2="151" y2="59.5" stroke="#4a72c8" stroke-width="1.1"/>
<text x="155" y="63.4" font-size="10.2" text-anchor="start" font-weight="bold" fill="#000" stroke="#000" stroke-width="0.22" >ZCIS</text>
<line x1="128.4" y1="72.8" x2="151" y2="72.8" stroke="#40a868" stroke-width="1.1"/>
<text x="155" y="76.7" font-size="10.2" text-anchor="start" font-weight="bold" fill="#000" stroke="#000" stroke-width="0.22" >CeO<tspan font-size="6.6" dy="2.9">2</tspan><tspan dy="-2.9">/ZIS</tspan></text>
<line x1="128.4" y1="88.1" x2="151" y2="88.1" stroke="#a070cc" stroke-width="1.1"/>
<text x="155" y="92.0" font-size="10.2" text-anchor="start" font-weight="bold" fill="#000" stroke="#000" stroke-width="0.22" >CeO<tspan font-size="6.6" dy="2.9">2</tspan><tspan dy="-2.9">/ZCIS</tspan></text>
<rect x="268.1" y="14.6" width="174.30" height="150.50" fill="none" stroke="#1a1a1a" stroke-width="1.3"/>
<line x1="285.53" y1="165.10" x2="285.53" y2="163.30" stroke="#1a1a1a" stroke-width="1"/>
<line x1="302.96" y1="165.10" x2="302.96" y2="162.10" stroke="#1a1a1a" stroke-width="1"/>
<line x1="320.39" y1="165.10" x2="320.39" y2="163.30" stroke="#1a1a1a" stroke-width="1"/>
<line x1="337.82" y1="165.10" x2="337.82" y2="162.10" stroke="#1a1a1a" stroke-width="1"/>
<line x1="355.25" y1="165.10" x2="355.25" y2="163.30" stroke="#1a1a1a" stroke-width="1"/>
<line x1="372.68" y1="165.10" x2="372.68" y2="162.10" stroke="#1a1a1a" stroke-width="1"/>
<line x1="390.11" y1="165.10" x2="390.11" y2="163.30" stroke="#1a1a1a" stroke-width="1"/>
<line x1="407.54" y1="165.10" x2="407.54" y2="162.10" stroke="#1a1a1a" stroke-width="1"/>
<line x1="424.97" y1="165.10" x2="424.97" y2="163.30" stroke="#1a1a1a" stroke-width="1"/>
<text transform="translate(268.10,175.7) scale(1,1.06)" font-size="9.6" text-anchor="middle" font-weight="bold" fill="#000" stroke="#000" stroke-width="0.22" >1.5</text>
<text transform="translate(302.96,175.7) scale(1,1.06)" font-size="9.6" text-anchor="middle" font-weight="bold" fill="#000" stroke="#000" stroke-width="0.22" >2.0</text>
<text transform="translate(337.82,175.7) scale(1,1.06)" font-size="9.6" text-anchor="middle" font-weight="bold" fill="#000" stroke="#000" stroke-width="0.22" >2.5</text>
<text transform="translate(372.68,175.7) scale(1,1.06)" font-size="9.6" text-anchor="middle" font-weight="bold" fill="#000" stroke="#000" stroke-width="0.22" >3.0</text>
<text transform="translate(407.54,175.7) scale(1,1.06)" font-size="9.6" text-anchor="middle" font-weight="bold" fill="#000" stroke="#000" stroke-width="0.22" >3.5</text>
<text transform="translate(442.40,175.7) scale(1,1.06)" font-size="9.6" text-anchor="middle" font-weight="bold" fill="#000" stroke="#000" stroke-width="0.22" >4.0</text>
<line x1="268.10" y1="150.05" x2="269.90" y2="150.05" stroke="#1a1a1a" stroke-width="1"/>
<line x1="268.10" y1="135.00" x2="271.10" y2="135.00" stroke="#1a1a1a" stroke-width="1"/>
<line x1="268.10" y1="119.95" x2="269.90" y2="119.95" stroke="#1a1a1a" stroke-width="1"/>
<line x1="268.10" y1="104.90" x2="271.10" y2="104.90" stroke="#1a1a1a" stroke-width="1"/>
<line x1="268.10" y1="89.85" x2="269.90" y2="89.85" stroke="#1a1a1a" stroke-width="1"/>
<line x1="268.10" y1="74.80" x2="271.10" y2="74.80" stroke="#1a1a1a" stroke-width="1"/>
<line x1="268.10" y1="59.75" x2="269.90" y2="59.75" stroke="#1a1a1a" stroke-width="1"/>
<line x1="268.10" y1="44.70" x2="271.10" y2="44.70" stroke="#1a1a1a" stroke-width="1"/>
<line x1="268.10" y1="29.65" x2="269.90" y2="29.65" stroke="#1a1a1a" stroke-width="1"/>
<text transform="translate(265,168.70) scale(1,1.06)" font-size="9.6" text-anchor="end" font-weight="bold" fill="#000" stroke="#000" stroke-width="0.22" >0.0</text>
<text transform="translate(265,138.60) scale(1,1.06)" font-size="9.6" text-anchor="end" font-weight="bold" fill="#000" stroke="#000" stroke-width="0.22" >0.5</text>
<text transform="translate(265,108.50) scale(1,1.06)" font-size="9.6" text-anchor="end" font-weight="bold" fill="#000" stroke="#000" stroke-width="0.22" >1.0</text>
<text transform="translate(265,78.40) scale(1,1.06)" font-size="9.6" text-anchor="end" font-weight="bold" fill="#000" stroke="#000" stroke-width="0.22" >1.5</text>
<text transform="translate(265,48.30) scale(1,1.06)" font-size="9.6" text-anchor="end" font-weight="bold" fill="#000" stroke="#000" stroke-width="0.22" >2.0</text>
<text transform="translate(265,18.20) scale(1,1.06)" font-size="9.6" text-anchor="end" font-weight="bold" fill="#000" stroke="#000" stroke-width="0.22" >2.5</text>
<text x="355.1" y="194.5" font-size="13.5" text-anchor="middle" font-weight="bold" fill="#000" stroke="#000" stroke-width="0.22" >hν (eV)</text>
<text transform="translate(246.3,112.2) rotate(-90) scale(1,1.0)" font-size="13.0" text-anchor="start" font-weight="bold" fill="#000" stroke="#000" stroke-width="0.22">(αhν)<tspan font-size="9" dy="-6.5">0.5</tspan></text>
<text x="236" y="20.7" font-size="16.5" text-anchor="start" font-weight="bold" fill="#000" stroke="#000" stroke-width="0.22" >b</text>
<path d="M271.9,152.3L272.2,152.5L272.5,152.6L272.9,152.7L273.4,152.8L273.9,152.7L274.4,152.6L274.9,152.6L275.4,152.7L275.9,152.8L276.4,153.0L276.9,153.0L277.4,152.9L277.9,152.9L278.4,153.0L278.9,153.1L279.4,153.1L279.9,153.2L280.4,153.2L280.9,153.2L281.4,153.2L281.9,153.3L282.4,153.2L282.9,153.2L283.4,153.2L283.9,153.1L284.4,153.1L284.9,153.2L285.3,153.1L285.8,153.0L286.3,152.9L286.8,152.8L287.3,152.8L287.8,152.7L288.3,152.8L288.8,152.8L289.3,152.7L289.8,152.6L290.3,152.5L290.8,152.4L291.3,152.3L291.8,152.3L292.3,152.3L292.8,152.2L293.3,152.1L293.8,152.0L294.3,152.0L294.8,151.8L295.2,151.7L295.7,151.6L296.2,151.5L296.7,151.4L297.2,151.3L297.7,151.2L298.2,151.0L298.7,150.8L299.1,150.7L299.6,150.7L300.1,150.6L300.6,150.5L301.0,150.3L301.5,150.0L301.9,149.6L302.4,149.4L302.8,149.2L303.3,149.1L303.7,149.0L304.2,148.9L304.6,148.6L305.0,148.3L305.5,148.0L305.9,147.7L306.4,147.4L306.8,147.3L307.3,147.1L307.7,146.8L308.1,146.4L308.5,146.1L308.9,145.8L309.3,145.5L309.7,145.2L310.1,144.9L310.5,144.7L310.8,144.4L311.2,144.1L311.6,143.7L312.0,143.4L312.4,143.2L312.7,142.9L313.1,142.5L313.5,142.2L313.9,141.8L314.2,141.4L314.6,141.0L315.0,140.7L315.3,140.3L315.6,140.1L315.9,139.6L316.2,139.2L316.5,138.7L316.8,138.3L317.1,137.9L317.4,137.6L317.7,137.2L318.0,136.8L318.3,136.5L318.6,136.1L318.9,135.6L319.2,135.0L319.5,134.6L319.8,134.2L320.0,133.8L320.3,133.4L320.6,133.2L320.8,132.8L321.1,132.3L321.4,131.7L321.6,131.3L321.9,130.8L322.1,130.4L322.3,129.9L322.6,129.5L322.8,129.2L323.1,128.8L323.3,128.4L323.6,127.8L323.8,127.4L324.1,127.2L324.3,126.7L324.6,126.1L324.8,125.6L325.0,125.3L325.2,124.9L325.5,124.3L325.7,123.9L325.9,123.6L326.1,123.1L326.3,122.6L326.6,122.1L326.8,121.8L327.0,121.2L327.2,120.6L327.4,120.1L327.6,119.8L327.8,119.3L328.0,118.8L328.2,118.2L328.4,117.8L328.6,117.3L328.8,116.8L329.0,116.4L329.1,116.1L329.3,115.7L329.5,115.2L329.7,114.6L329.9,114.2L330.1,113.9L330.3,113.6L330.4,113.0L330.6,112.4L330.8,111.9L331.0,111.6L331.2,111.2L331.4,110.7L331.5,110.2L331.7,109.8L331.9,109.3L332.1,108.7L332.3,108.1L332.4,107.6L332.6,107.1L332.8,106.8L333.0,106.3L333.1,105.9L333.3,105.3L333.5,104.9L333.7,104.4L333.8,103.9L334.0,103.5L334.2,103.0L334.4,102.6L334.5,102.2L334.7,101.6L334.9,101.1L335.0,100.6L335.2,100.2L335.4,99.7L335.6,99.3L335.7,99.0L335.9,98.5L336.1,97.9L336.3,97.3L336.4,96.9L336.6,96.4L336.8,96.0L337.0,95.6L337.2,95.2L337.4,94.7L337.6,94.2L337.8,93.8L338.0,93.3L338.2,92.8L338.4,92.4L338.6,92.1L338.8,91.5L339.0,91.0L339.2,90.6L339.4,90.2L339.6,89.6L339.8,89.2L340.0,88.9L340.2,88.6L340.4,88.0L340.6,87.2L340.8,86.9L341.0,86.6L341.2,86.4L341.4,85.8L341.6,85.1L341.8,84.5L342.0,83.8L342.2,83.5L342.4,83.0L342.6,82.8L342.8,82.4L343.0,82.0L343.3,81.2L343.5,80.8L343.8,80.6L344.0,80.4L344.3,79.8L344.6,79.3L344.8,78.8L345.1,78.5L345.4,78.1L345.7,77.7L345.9,77.1L346.2,76.8L346.5,76.3L346.8,76.0L347.0,75.6L347.3,75.3L347.6,75.0L347.8,74.4L348.1,73.8L348.4,73.3L348.7,73.1L348.9,72.7L349.2,72.3L349.5,71.9L349.8,71.4L350.1,70.9L350.4,70.4L350.7,70.0L351.0,69.6L351.4,69.4L351.7,69.4L352.1,69.0L352.4,68.5L352.8,68.2L353.1,67.7L353.5,67.2L353.9,66.7L354.2,66.5L354.6,66.3L354.9,66.0L355.3,65.7L355.6,65.4L356.0,65.1L356.4,64.7L356.7,64.0L357.1,63.5L357.4,63.4L357.8,63.3L358.2,62.9L358.6,62.3L359.0,62.2L359.4,61.9L359.8,61.7L360.2,61.2L360.6,61.1L361.0,60.8L361.4,60.4L361.8,60.1L362.2,59.8L362.6,59.7L363.0,59.3L363.4,58.9L363.8,58.3L364.2,57.9L364.6,57.6L365.0,57.4L365.5,57.1L365.9,57.1L366.3,57.0L366.8,56.8L367.2,56.4L367.7,56.1L368.1,56.0L368.6,56.1L369.0,56.0L369.5,55.5L369.9,55.2L370.4,55.0L370.8,54.8L371.3,54.5L371.7,54.6L372.2,54.6L372.7,54.4L373.1,54.1L373.6,53.9L374.1,53.9L374.6,53.9L375.0,53.8L375.5,53.3L376.0,52.9L376.5,52.7L377.0,52.7L377.4,52.8L377.9,52.6L378.4,52.4L378.9,52.2L379.4,52.2L379.9,52.0L380.3,51.9L380.8,51.6L381.3,51.4L381.8,51.5L382.3,51.6L382.8,51.6L383.3,51.4L383.8,51.2L384.3,51.0L384.7,50.8L385.2,51.0L385.7,50.5L386.2,50.8L386.7,50.4L387.2,50.6L387.7,51.0L388.2,51.5L388.7,51.7L389.2,51.6L389.6,51.5L390.1,51.5L390.6,51.9L391.1,52.0L391.6,51.7L392.1,51.3L392.6,51.8L393.1,51.5L393.6,51.6L394.1,51.8L394.6,52.4L395.1,52.2L395.6,52.1L396.1,51.9L396.6,52.4L397.1,52.3L397.6,52.2L398.1,52.1L398.6,52.5L399.1,53.0L399.6,53.2L400.1,52.8L400.6,52.2L401.1,51.5L401.6,51.7L402.1,51.8L402.5,51.9L403.0,51.7L403.5,51.5L404.0,51.1L404.5,51.0L405.0,51.0L405.5,51.2L406.0,51.5L406.5,51.4L407.0,51.3L407.5,51.1L407.9,51.1L408.4,50.8L408.9,51.0L409.4,51.1L409.9,51.0L410.4,50.9L410.9,50.8L411.4,50.8L411.9,50.7L412.3,50.6L412.8,50.3L413.3,50.1L413.8,50.0L414.3,49.6L414.8,49.8L415.3,49.7L415.7,49.4L416.2,48.8L416.6,48.9L417.1,49.3L417.6,49.1L418.0,48.3L418.5,47.7L418.9,47.9L419.4,47.7L419.8,47.6L420.3,47.5L420.7,47.4L421.2,46.6L421.6,46.2L422.1,46.5L422.5,46.9L423.0,47.0L423.5,46.5L423.9,45.5L424.4,44.9L424.9,45.0L425.3,45.2L425.8,44.8L426.3,44.6L426.8,44.8L427.3,45.4L427.7,45.5L428.2,45.4L428.7,45.4L429.2,44.6L429.7,44.2L430.2,43.8L430.7,43.8L431.2,43.3L431.7,43.8L432.2,44.1L432.6,43.8L433.1,43.2L433.6,43.3L434.1,43.7L434.6,43.4L435.1,42.7L435.6,42.2L436.1,42.2L436.6,42.3L437.1,42.2L437.6,42.3L438.0,42.6L438.5,43.1L439.0,42.6L439.5,41.7L440.0,41.3L440.4,41.6L440.8,41.6L441.1,41.1L441.4,40.5L441.7,40.1L441.8,40.2L442.0,40.4L442.1,40.6" fill="none" stroke="#f05a48" stroke-width="1.7"/>
<path d="M271.9,157.1L272.2,157.1L272.5,157.0L273.0,156.8L273.4,156.6L273.9,156.5L274.4,156.5L274.9,156.6L275.4,156.5L275.9,156.5L276.4,156.4L276.9,156.4L277.3,156.3L277.8,156.2L278.3,156.0L278.8,155.8L279.3,155.7L279.8,155.6L280.3,155.5L280.7,155.2L281.2,155.2L281.7,155.1L282.2,154.9L282.7,154.7L283.2,154.6L283.6,154.5L284.1,154.5L284.6,154.4L285.1,154.4L285.6,154.1L286.1,154.0L286.6,153.8L287.0,153.8L287.5,153.8L288.0,153.7L288.5,153.4L289.0,153.2L289.5,153.1L290.0,153.1L290.4,152.9L290.9,152.7L291.4,152.6L291.9,152.5L292.3,152.3L292.8,152.1L293.3,152.1L293.7,152.0L294.2,151.6L294.6,151.3L295.1,151.0L295.6,150.9L296.0,150.7L296.5,150.4L296.9,150.2L297.3,149.9L297.8,149.8L298.2,149.7L298.7,149.6L299.1,149.3L299.5,148.9L299.9,148.6L300.3,148.3L300.7,148.0L301.1,147.6L301.5,147.1L301.9,146.8L302.3,146.6L302.7,146.3L303.0,146.0L303.4,145.7L303.8,145.5L304.2,145.1L304.6,144.7L305.0,144.5L305.3,144.2L305.7,143.9L306.1,143.5L306.5,143.2L306.8,142.9L307.2,142.6L307.5,142.2L307.9,141.7L308.2,141.3L308.6,141.0L309.0,140.7L309.3,140.4L309.7,140.1L310.0,139.8L310.4,139.4L310.7,139.0L311.1,138.6L311.4,138.2L311.8,137.9L312.1,137.6L312.4,137.2L312.7,136.6L313.0,136.2L313.3,135.8L313.6,135.4L313.9,135.0L314.1,134.8L314.4,134.4L314.7,134.0L315.0,133.5L315.3,133.1L315.5,132.7L315.8,132.2L316.1,131.8L316.3,131.5L316.6,130.9L316.8,130.4L317.0,129.9L317.3,129.4L317.5,129.1L317.7,128.7L318.0,128.3L318.2,127.8L318.4,127.3L318.6,126.8L318.8,126.4L319.1,126.0L319.3,125.6L319.5,125.1L319.7,124.6L320.0,124.1L320.2,123.7L320.4,123.1L320.6,122.7L320.8,122.4L321.0,121.9L321.2,121.4L321.4,121.0L321.6,120.6L321.8,120.1L322.0,119.5L322.2,119.0L322.3,118.5L322.5,118.0L322.6,117.7L322.7,117.3L322.8,116.7L323.0,116.3L323.1,115.9L323.2,115.4L323.3,114.9L323.4,114.4L323.6,113.9L323.7,113.3L323.8,112.7L323.9,112.2L324.0,111.8L324.2,111.2L324.3,110.7L324.4,110.3L324.6,109.9L324.7,109.5L324.9,109.0L325.0,108.7L325.2,108.2L325.3,107.6L325.5,107.0L325.7,106.6L325.8,106.1L326.0,105.6L326.2,105.0L326.3,104.5L326.5,104.2L326.6,103.8L326.8,103.3L327.0,102.9L327.1,102.5L327.3,102.1L327.5,101.5L327.6,100.9L327.8,100.4L328.0,100.0L328.1,99.6L328.3,99.1L328.4,98.7L328.6,98.3L328.8,97.8L329.0,97.3L329.1,96.9L329.3,96.4L329.5,95.8L329.6,95.2L329.8,94.7L330.0,94.3L330.2,93.8L330.4,93.5L330.5,93.1L330.7,92.6L330.9,92.2L331.1,91.6L331.2,91.1L331.4,90.5L331.6,90.0L331.8,89.5L331.9,89.0L332.1,88.6L332.3,88.2L332.5,87.8L332.6,87.2L332.8,86.8L333.0,86.4L333.2,85.9L333.4,85.3L333.5,84.8L333.7,84.4L333.9,84.0L334.1,83.6L334.3,83.2L334.5,82.8L334.7,82.5L334.9,82.0L335.1,81.5L335.3,81.1L335.6,80.6L335.8,80.0L336.0,79.6L336.2,79.3L336.5,78.9L336.7,78.4L336.9,78.0L337.1,77.4L337.4,77.0L337.6,76.4L337.8,76.0L338.0,75.6L338.2,75.2L338.5,74.7L338.7,74.2L338.9,73.8L339.2,73.4L339.4,72.9L339.7,72.3L339.9,71.9L340.2,71.7L340.5,71.4L340.8,71.0L341.2,70.7L341.5,70.3L341.8,69.7L342.1,69.1L342.5,68.9L342.8,68.7L343.1,68.2L343.4,67.7L343.8,67.3L344.1,67.2L344.4,66.8L344.8,66.4L345.1,66.0L345.5,65.6L345.9,65.2L346.3,65.0L346.7,64.7L347.1,64.2L347.5,63.8L347.9,63.7L348.3,63.7L348.7,63.3L349.1,62.9L349.5,62.4L349.9,62.3L350.3,61.9L350.7,61.8L351.1,61.6L351.5,61.6L351.9,61.2L352.3,60.9L352.8,60.6L353.2,60.2L353.7,59.8L354.1,59.5L354.6,59.4L355.0,59.5L355.5,59.3L356.0,58.8L356.4,58.4L356.9,58.5L357.3,58.4L357.8,58.2L358.3,58.0L358.7,57.9L359.2,57.5L359.7,57.2L360.1,57.1L360.6,57.2L361.1,57.2L361.5,56.9L362.0,56.5L362.5,56.4L363.0,56.6L363.5,56.4L363.9,56.2L364.4,55.7L364.9,55.5L365.4,55.3L365.8,55.1L366.3,54.9L366.8,54.8L367.3,54.7L367.8,54.5L368.2,54.3L368.7,54.4L369.2,54.5L369.7,54.6L370.2,54.2L370.7,54.1L371.2,54.0L371.6,54.2L372.1,54.1L372.6,53.7L373.1,53.4L373.6,53.5L374.1,53.3L374.6,53.2L375.1,52.8L375.5,52.9L376.0,53.1L376.5,53.2L377.0,53.0L377.5,52.7L378.0,52.6L378.5,52.5L379.0,52.5L379.5,52.3L380.0,52.2L380.5,52.3L381.0,52.4L381.5,52.5L382.0,52.5L382.5,52.5L383.0,52.0L383.5,51.8L384.0,52.0L384.5,52.4L385.0,52.4L385.5,52.3L386.0,51.7L386.5,51.9L387.0,52.2L387.5,52.4L387.9,52.1L388.4,51.8L388.9,52.0L389.4,52.6L389.8,53.3L390.3,53.0L390.8,53.3L391.3,53.6L391.7,54.0L392.2,53.6L392.7,53.7L393.2,54.3L393.6,54.8L394.1,54.4L394.6,54.1L395.1,54.4L395.6,55.2L396.1,55.5L396.6,55.4L397.1,54.8L397.6,54.8L398.1,54.7L398.6,54.6L399.1,54.3L399.6,54.2L400.1,54.3L400.5,54.5L401.0,54.6L401.5,54.5L402.0,54.3L402.5,54.5L403.0,55.1L403.4,55.3L403.9,55.5L404.4,55.2L404.9,55.9L405.3,56.1L405.8,56.2L406.2,55.7L406.6,55.5L407.1,54.9L407.5,54.5L407.9,54.5L408.4,54.7L408.8,54.3L409.2,53.4L409.7,53.2L410.1,53.4L410.6,53.7L411.0,53.3L411.5,52.9L412.0,52.7L412.5,52.7L413.0,52.7L413.5,52.4L414.0,52.4L414.5,52.5L415.0,52.7L415.4,52.4L415.9,52.2L416.3,52.3L416.8,52.5L417.2,52.6L417.7,51.9L418.1,51.1L418.5,50.7L419.0,51.2L419.4,51.6L419.8,51.2L420.3,50.9L420.7,50.2L421.1,49.7L421.6,48.7L422.0,48.6L422.5,48.4L422.9,48.3L423.4,48.6L423.8,48.6L424.2,48.0L424.7,47.5L425.2,47.9L425.6,48.2L426.1,47.9L426.6,47.9L427.0,47.8L427.5,47.6L428.0,46.9L428.5,46.7L429.0,46.5L429.5,47.0L430.0,46.8L430.5,46.4L431.0,45.9L431.4,45.6L431.9,45.5L432.4,45.3L432.9,45.8L433.4,45.7L433.9,45.3L434.4,44.9L434.9,45.3L435.4,45.6L435.8,45.2L436.3,44.9L436.8,45.1L437.3,45.6L437.8,45.7L438.2,45.5L438.7,45.4L439.2,44.9L439.7,44.1L440.1,43.7L440.6,43.9L441.0,43.6L441.3,43.5L441.7,43.7L441.9,44.1" fill="none" stroke="#9668c8" stroke-width="1.7"/>
<line x1="303.3" y1="164.8" x2="317.2" y2="128.6" stroke="#9a6cd0" stroke-width="1.1" stroke-dasharray="2.5,2.2"/>
<line x1="308" y1="164.8" x2="329.5" y2="118" stroke="#f08a40" stroke-width="1.1" stroke-dasharray="2.5,2.2"/>
<line x1="294.6" y1="140.4" x2="299.8" y2="159.5" stroke="#000" stroke-width="1.1"/>
<path d="M298.6,158.6 L301.6,165.2 L302.8,157.8 Z" fill="#000"/>
<text x="276" y="136" font-size="10" text-anchor="start" font-weight="bold" fill="#9a6cd0" stroke="#9a6cd0" stroke-width="0.22" >2.00 eV</text>
<text x="324.4" y="158.2" font-size="10" text-anchor="start" font-weight="bold" fill="#f08a40" stroke="#f08a40" stroke-width="0.22" >2.09 eV</text>
<text x="300.2" y="107.7" font-size="10.4" text-anchor="start" font-weight="bold" fill="#9a6cd0" stroke="#9a6cd0" stroke-width="0.22" >ZCIS</text>
<text x="335.6" y="116" font-size="10" text-anchor="start" font-weight="bold" fill="#f08a40" stroke="#f08a40" stroke-width="0.22" >ZIS</text>
<rect x="497.0" y="14.6" width="174.80" height="150.40" fill="none" stroke="#1a1a1a" stroke-width="1.3"/>
<line x1="514.48" y1="165.00" x2="514.48" y2="163.20" stroke="#1a1a1a" stroke-width="1"/>
<line x1="531.96" y1="165.00" x2="531.96" y2="162.00" stroke="#1a1a1a" stroke-width="1"/>
<line x1="549.44" y1="165.00" x2="549.44" y2="163.20" stroke="#1a1a1a" stroke-width="1"/>
<line x1="566.92" y1="165.00" x2="566.92" y2="162.00" stroke="#1a1a1a" stroke-width="1"/>
<line x1="584.40" y1="165.00" x2="584.40" y2="163.20" stroke="#1a1a1a" stroke-width="1"/>
<line x1="601.88" y1="165.00" x2="601.88" y2="162.00" stroke="#1a1a1a" stroke-width="1"/>
<line x1="619.36" y1="165.00" x2="619.36" y2="163.20" stroke="#1a1a1a" stroke-width="1"/>
<line x1="636.84" y1="165.00" x2="636.84" y2="162.00" stroke="#1a1a1a" stroke-width="1"/>
<line x1="654.32" y1="165.00" x2="654.32" y2="163.20" stroke="#1a1a1a" stroke-width="1"/>
<text transform="translate(497.00,175.7) scale(1,1.06)" font-size="9.6" text-anchor="middle" font-weight="bold" fill="#000" stroke="#000" stroke-width="0.22" >2.5</text>
<text transform="translate(531.96,175.7) scale(1,1.06)" font-size="9.6" text-anchor="middle" font-weight="bold" fill="#000" stroke="#000" stroke-width="0.22" >2.7</text>
<text transform="translate(566.92,175.7) scale(1,1.06)" font-size="9.6" text-anchor="middle" font-weight="bold" fill="#000" stroke="#000" stroke-width="0.22" >2.9</text>
<text transform="translate(601.88,175.7) scale(1,1.06)" font-size="9.6" text-anchor="middle" font-weight="bold" fill="#000" stroke="#000" stroke-width="0.22" >3.1</text>
<text transform="translate(636.84,175.7) scale(1,1.06)" font-size="9.6" text-anchor="middle" font-weight="bold" fill="#000" stroke="#000" stroke-width="0.22" >3.3</text>
<text transform="translate(671.80,175.7) scale(1,1.06)" font-size="9.6" text-anchor="middle" font-weight="bold" fill="#000" stroke="#000" stroke-width="0.22" >3.5</text>
<line x1="497.00" y1="149.96" x2="498.80" y2="149.96" stroke="#1a1a1a" stroke-width="1"/>
<line x1="497.00" y1="134.92" x2="500.00" y2="134.92" stroke="#1a1a1a" stroke-width="1"/>
<line x1="497.00" y1="119.88" x2="498.80" y2="119.88" stroke="#1a1a1a" stroke-width="1"/>
<line x1="497.00" y1="104.84" x2="500.00" y2="104.84" stroke="#1a1a1a" stroke-width="1"/>
<line x1="497.00" y1="89.80" x2="498.80" y2="89.80" stroke="#1a1a1a" stroke-width="1"/>
<line x1="497.00" y1="74.76" x2="500.00" y2="74.76" stroke="#1a1a1a" stroke-width="1"/>
<line x1="497.00" y1="59.72" x2="498.80" y2="59.72" stroke="#1a1a1a" stroke-width="1"/>
<line x1="497.00" y1="44.68" x2="500.00" y2="44.68" stroke="#1a1a1a" stroke-width="1"/>
<line x1="497.00" y1="29.64" x2="498.80" y2="29.64" stroke="#1a1a1a" stroke-width="1"/>
<text transform="translate(494,168.60) scale(1,1.06)" font-size="9.6" text-anchor="end" font-weight="bold" fill="#000" stroke="#000" stroke-width="0.22" >0.0</text>
<text transform="translate(494,138.52) scale(1,1.06)" font-size="9.6" text-anchor="end" font-weight="bold" fill="#000" stroke="#000" stroke-width="0.22" >0.2</text>
<text transform="translate(494,108.44) scale(1,1.06)" font-size="9.6" text-anchor="end" font-weight="bold" fill="#000" stroke="#000" stroke-width="0.22" >0.4</text>
<text transform="translate(494,78.36) scale(1,1.06)" font-size="9.6" text-anchor="end" font-weight="bold" fill="#000" stroke="#000" stroke-width="0.22" >0.6</text>
<text transform="translate(494,48.28) scale(1,1.06)" font-size="9.6" text-anchor="end" font-weight="bold" fill="#000" stroke="#000" stroke-width="0.22" >0.8</text>
<text transform="translate(494,18.20) scale(1,1.06)" font-size="9.6" text-anchor="end" font-weight="bold" fill="#000" stroke="#000" stroke-width="0.22" >1.0</text>
<text x="584" y="192.7" font-size="13.5" text-anchor="middle" font-weight="bold" fill="#000" stroke="#000" stroke-width="0.22" >hν (eV)</text>
<text transform="translate(474,116.2) rotate(-90) scale(1,1.0)" font-size="13.2" text-anchor="start" font-weight="bold" fill="#000" stroke="#000" stroke-width="0.22">(αhν)<tspan font-size="9" dy="-6.5">2</tspan></text>
<text x="464.5" y="20.7" font-size="16.5" text-anchor="start" font-weight="bold" fill="#000" stroke="#000" stroke-width="0.22" >c</text>
<path d="M497.1,163.9L497.4,164.0L497.8,164.0L498.2,163.9L498.7,163.9L499.2,163.9L499.7,164.0L500.2,163.9L500.7,163.9L501.2,163.9L501.7,164.0L502.2,164.2L502.7,164.1L503.2,164.0L503.7,164.0L504.2,164.1L504.7,164.2L505.2,164.1L505.7,164.1L506.2,164.0L506.7,164.0L507.2,164.1L507.7,164.1L508.2,164.1L508.7,164.1L509.2,164.2L509.7,164.0L510.2,163.9L510.7,163.9L511.2,164.0L511.7,164.1L512.2,164.1L512.7,164.0L513.2,163.8L513.7,163.8L514.2,163.9L514.7,164.0L515.2,163.9L515.7,163.8L516.2,163.7L516.7,163.7L517.2,163.7L517.7,163.7L518.2,163.7L518.7,163.6L519.2,163.6L519.7,163.6L520.2,163.7L520.7,163.6L521.2,163.5L521.7,163.4L522.2,163.5L522.7,163.4L523.2,163.2L523.7,163.1L524.2,163.2L524.7,163.2L525.2,163.2L525.7,163.0L526.2,163.0L526.7,163.1L527.2,163.1L527.7,163.0L528.2,163.0L528.7,162.8L529.2,162.7L529.6,162.5L530.1,162.5L530.6,162.5L531.1,162.5L531.6,162.4L532.1,162.3L532.6,162.2L533.1,162.1L533.6,162.1L534.1,162.1L534.6,162.1L535.1,162.0L535.6,161.9L536.1,161.8L536.6,161.7L537.1,161.6L537.5,161.5L538.0,161.4L538.5,161.2L539.0,161.1L539.5,161.0L540.0,160.9L540.5,160.7L541.0,160.6L541.5,160.6L542.0,160.5L542.4,160.3L542.9,160.3L543.4,160.1L543.9,160.0L544.4,159.7L544.8,159.7L545.3,159.7L545.8,159.5L546.3,159.2L546.8,159.1L547.2,159.1L547.7,158.9L548.2,158.6L548.7,158.5L549.1,158.5L549.6,158.3L550.1,158.1L550.5,157.8L551.0,157.7L551.4,157.5L551.9,157.4L552.3,157.1L552.7,156.9L553.2,156.6L553.6,156.3L554.1,156.0L554.5,155.8L554.9,155.5L555.4,155.3L555.8,155.1L556.2,154.9L556.7,154.5L557.1,154.2L557.6,154.1L558.0,154.0L558.4,153.7L558.9,153.5L559.3,153.2L559.7,152.8L560.1,152.5L560.5,152.3L560.9,152.1L561.4,151.8L561.8,151.6L562.2,151.3L562.6,151.0L563.0,150.7L563.4,150.3L563.8,150.0L564.2,149.7L564.6,149.4L565.0,149.1L565.4,148.8L565.7,148.3L566.1,148.0L566.5,147.6L566.8,147.4L567.2,147.0L567.5,146.7L567.9,146.3L568.2,145.9L568.6,145.6L569.0,145.2L569.3,144.9L569.7,144.5L570.0,144.2L570.4,143.9L570.8,143.6L571.1,143.3L571.5,143.0L571.8,142.5L572.2,142.0L572.5,141.5L572.8,141.3L573.1,141.0L573.4,140.6L573.7,140.0L574.0,139.6L574.3,139.3L574.6,138.9L574.8,138.4L575.1,138.0L575.4,137.6L575.7,137.3L576.0,137.0L576.3,136.6L576.6,136.1L576.8,135.6L577.1,135.1L577.4,134.7L577.7,134.3L578.0,134.0L578.3,133.6L578.5,133.2L578.8,132.7L579.1,132.3L579.4,132.0L579.7,131.7L580.0,131.2L580.2,130.8L580.5,130.4L580.7,129.9L581.0,129.4L581.2,128.9L581.4,128.5L581.6,128.0L581.8,127.5L582.0,127.0L582.2,126.6L582.4,126.1L582.6,125.7L582.8,125.3L583.0,124.9L583.2,124.4L583.4,123.9L583.6,123.3L583.9,122.9L584.1,122.6L584.3,122.2L584.5,121.6L584.7,121.1L584.9,120.6L585.1,120.1L585.3,119.6L585.5,119.2L585.7,118.8L585.9,118.4L586.1,118.0L586.3,117.5L586.5,117.0L586.7,116.5L586.9,116.1L587.1,115.6L587.3,115.2L587.6,114.6L587.8,114.3L588.0,113.9L588.2,113.5L588.4,113.0L588.6,112.6L588.7,112.2L588.9,111.7L589.1,111.2L589.2,110.7L589.3,110.1L589.5,109.4L589.6,109.0L589.7,108.4L589.9,108.0L590.0,107.6L590.1,107.2L590.3,106.8L590.4,106.3L590.5,105.9L590.6,105.3L590.8,104.8L590.9,104.2L591.0,103.9L591.2,103.4L591.3,102.8L591.4,102.3L591.6,101.8L591.7,101.4L591.8,101.0L591.9,100.5L592.1,99.8L592.2,99.4L592.3,99.0L592.5,98.5L592.6,97.9L592.7,97.4L592.8,97.0L593.0,96.6L593.1,96.2L593.2,95.7L593.4,95.3L593.5,94.8L593.6,94.2L593.8,93.7L593.9,93.2L594.0,92.7L594.1,92.1L594.3,91.7L594.4,91.4L594.5,91.0L594.7,90.5L594.8,90.0L594.9,89.4L595.1,89.0L595.2,88.4L595.3,87.8L595.4,87.2L595.6,86.8L595.7,86.4L595.8,85.9L596.0,85.4L596.1,84.9L596.2,84.6L596.3,84.1L596.5,83.7L596.6,83.2L596.7,82.6L596.8,82.1L597.0,81.6L597.1,81.2L597.2,80.8L597.4,80.4L597.5,79.9L597.6,79.3L597.7,78.7L597.9,78.2L598.0,77.7L598.1,77.3L598.2,76.8L598.4,76.4L598.5,75.8L598.6,75.4L598.7,74.9L598.9,74.5L599.0,73.9L599.1,73.4L599.2,72.9L599.4,72.5L599.5,72.0L599.6,71.5L599.7,71.0L599.9,70.6L600.0,70.1L600.1,69.6L600.2,69.2L600.3,68.8L600.3,68.2L600.4,67.6L600.5,67.1L600.6,66.7L600.7,66.2L600.8,65.6L600.9,65.0L600.9,64.5L601.0,64.0L601.1,63.6L601.2,63.2L601.3,62.7L601.4,62.1L601.5,61.5L601.6,61.0L601.6,60.5L601.7,60.0L601.8,59.6L601.9,59.3L602.0,58.8L602.1,58.1L602.2,57.5L602.2,57.1L602.3,56.8L602.4,56.4L602.5,55.9L602.6,55.3L602.7,54.9L602.8,54.5L602.9,53.9L602.9,53.4L603.0,52.8L603.1,52.4L603.2,51.9L603.3,51.4L603.4,50.8L603.5,50.3L603.6,49.9L603.6,49.5L603.7,49.1L603.8,48.4L604.0,47.8L604.1,47.4L604.2,47.0L604.4,46.5L604.5,45.9L604.6,45.4L604.8,44.9L604.9,44.4L605.0,43.9L605.2,43.5L605.3,43.1L605.4,42.6L605.6,42.2L605.7,41.8L605.9,41.3L606.0,40.8L606.1,40.3L606.3,39.6L606.4,39.1L606.5,38.7L606.7,38.3L606.8,37.8L606.9,37.2L607.1,36.8L607.2,36.4L607.3,35.9L607.5,35.3L607.6,34.9L607.7,34.4L607.8,34.1L607.8,33.5L607.9,32.8L608.0,32.3L608.0,31.9L608.1,31.4L608.1,30.9L608.2,30.4L608.2,30.0L608.3,29.4L608.4,28.9L608.4,28.5L608.5,27.8L608.5,27.3L608.6,26.8L608.6,26.5L608.7,26.0L608.8,25.5L608.8,25.0L608.9,24.4L608.9,24.0L609.0,23.4L609.0,23.0L609.1,22.5L609.2,22.1L609.2,21.6L609.3,21.0L609.3,20.4L609.4,19.8L609.4,19.3L609.5,18.8L609.6,18.4L609.6,17.9L609.7,17.5L609.7,17.0L609.8,16.6L609.8,16.1L609.9,15.7L609.9,15.2L610.0,14.9" fill="none" stroke="#3a8ee0" stroke-width="1.3"/>
<line x1="578.3" y1="165" x2="591" y2="110" stroke="#3a70c8" stroke-width="1.1" stroke-dasharray="2.2,2.2"/>
<text x="587.5" y="157" font-size="10" text-anchor="start" font-weight="bold" fill="#3a8ee0" stroke="#3a8ee0" stroke-width="0.22" >2.95 eV</text>
<text x="553.5" y="91.3" font-size="10" text-anchor="start" font-weight="bold" fill="#3a8ee0" stroke="#3a8ee0" stroke-width="0.22" >CeO<tspan font-size="6.6" dy="2.9">2</tspan></text>
<rect x="43.2" y="205.9" width="174.20" height="150.80" fill="none" stroke="#333" stroke-width="1.3"/>
<line x1="56.60" y1="356.70" x2="56.60" y2="353.70" stroke="#1a1a1a" stroke-width="1"/>
<line x1="70.00" y1="356.70" x2="70.00" y2="354.90" stroke="#1a1a1a" stroke-width="1"/>
<line x1="83.40" y1="356.70" x2="83.40" y2="353.70" stroke="#1a1a1a" stroke-width="1"/>
<line x1="96.80" y1="356.70" x2="96.80" y2="354.90" stroke="#1a1a1a" stroke-width="1"/>
<line x1="110.20" y1="356.70" x2="110.20" y2="353.70" stroke="#1a1a1a" stroke-width="1"/>
<line x1="123.60" y1="356.70" x2="123.60" y2="354.90" stroke="#1a1a1a" stroke-width="1"/>
<line x1="137.00" y1="356.70" x2="137.00" y2="353.70" stroke="#1a1a1a" stroke-width="1"/>
<line x1="150.40" y1="356.70" x2="150.40" y2="354.90" stroke="#1a1a1a" stroke-width="1"/>
<line x1="163.80" y1="356.70" x2="163.80" y2="353.70" stroke="#1a1a1a" stroke-width="1"/>
<line x1="177.20" y1="356.70" x2="177.20" y2="354.90" stroke="#1a1a1a" stroke-width="1"/>
<line x1="190.60" y1="356.70" x2="190.60" y2="353.70" stroke="#1a1a1a" stroke-width="1"/>
<line x1="204.00" y1="356.70" x2="204.00" y2="354.90" stroke="#1a1a1a" stroke-width="1"/>
<text transform="translate(56.60,367) scale(1,1.06)" font-size="9.6" text-anchor="middle" font-weight="bold" fill="#000" stroke="#000" stroke-width="0.22" >-0.6</text>
<text transform="translate(83.40,367) scale(1,1.06)" font-size="9.6" text-anchor="middle" font-weight="bold" fill="#000" stroke="#000" stroke-width="0.22" >-0.4</text>
<text transform="translate(110.20,367) scale(1,1.06)" font-size="9.6" text-anchor="middle" font-weight="bold" fill="#000" stroke="#000" stroke-width="0.22" >-0.2</text>
<text transform="translate(137.00,367) scale(1,1.06)" font-size="9.6" text-anchor="middle" font-weight="bold" fill="#000" stroke="#000" stroke-width="0.22" >0.0</text>
<text transform="translate(163.80,367) scale(1,1.06)" font-size="9.6" text-anchor="middle" font-weight="bold" fill="#000" stroke="#000" stroke-width="0.22" >0.2</text>
<text transform="translate(190.60,367) scale(1,1.06)" font-size="9.6" text-anchor="middle" font-weight="bold" fill="#000" stroke="#000" stroke-width="0.22" >0.4</text>
<text transform="translate(217.40,367) scale(1,1.06)" font-size="9.6" text-anchor="middle" font-weight="bold" fill="#000" stroke="#000" stroke-width="0.22" >0.6</text>
<line x1="43.20" y1="341.62" x2="45.00" y2="341.62" stroke="#1a1a1a" stroke-width="1"/>
<line x1="43.20" y1="326.54" x2="46.20" y2="326.54" stroke="#1a1a1a" stroke-width="1"/>
<line x1="43.20" y1="311.46" x2="45.00" y2="311.46" stroke="#1a1a1a" stroke-width="1"/>
<line x1="43.20" y1="296.38" x2="46.20" y2="296.38" stroke="#1a1a1a" stroke-width="1"/>
<line x1="43.20" y1="281.30" x2="45.00" y2="281.30" stroke="#1a1a1a" stroke-width="1"/>
<line x1="43.20" y1="266.22" x2="46.20" y2="266.22" stroke="#1a1a1a" stroke-width="1"/>
<line x1="43.20" y1="251.14" x2="45.00" y2="251.14" stroke="#1a1a1a" stroke-width="1"/>
<line x1="43.20" y1="236.06" x2="46.20" y2="236.06" stroke="#1a1a1a" stroke-width="1"/>
<line x1="43.20" y1="220.98" x2="45.00" y2="220.98" stroke="#1a1a1a" stroke-width="1"/>
<text transform="translate(39.70,360.30) scale(1,1.06)" font-size="9.6" text-anchor="end" font-weight="bold" fill="#000" stroke="#000" stroke-width="0.22" >0</text>
<text transform="translate(39.70,330.14) scale(1,1.06)" font-size="9.6" text-anchor="end" font-weight="bold" fill="#000" stroke="#000" stroke-width="0.22" >8</text>
<text transform="translate(39.70,299.98) scale(1,1.06)" font-size="9.6" text-anchor="end" font-weight="bold" fill="#000" stroke="#000" stroke-width="0.22" >16</text>
<text transform="translate(39.70,269.82) scale(1,1.06)" font-size="9.6" text-anchor="end" font-weight="bold" fill="#000" stroke="#000" stroke-width="0.22" >24</text>
<text transform="translate(39.70,239.66) scale(1,1.06)" font-size="9.6" text-anchor="end" font-weight="bold" fill="#000" stroke="#000" stroke-width="0.22" >32</text>
<text transform="translate(39.70,209.50) scale(1,1.06)" font-size="9.6" text-anchor="end" font-weight="bold" fill="#000" stroke="#000" stroke-width="0.22" >40</text>
<text x="129.9" y="386" font-size="13.5" text-anchor="middle" font-weight="bold" fill="#000" stroke="#000" stroke-width="0.22" >Potential (V <tspan font-style="italic">vs</tspan>. NHE)</text>
<text x="13.3" y="211.2" font-size="16.5" text-anchor="start" font-weight="bold" fill="#000" stroke="#000" stroke-width="0.22" >d</text>
<text transform="translate(21.2,327.5) rotate(-90) scale(1,1.0)" font-size="13" text-anchor="start" font-weight="bold" fill="#000" stroke="#000" stroke-width="0.22">1/C<tspan font-size="9" dy="-6.5">2</tspan><tspan dy="6.5"> (10</tspan><tspan font-size="9" dy="-6.5">8</tspan><tspan dy="6.5"> F</tspan><tspan font-size="9" dy="-6.5">−2</tspan><tspan dy="6.5"> cm</tspan><tspan font-size="9" dy="-6.5">4</tspan><tspan dy="6.5">)</tspan></text>
<path d="M124.2,295.7L124.5,295.6L124.8,295.5L125.1,295.5L125.4,295.4L125.8,295.3L126.1,295.2L126.5,295.2L126.9,295.1L127.3,295.0L127.8,294.9L128.2,294.8L128.7,294.7L129.1,294.6L129.6,294.5L130.1,294.4L130.5,294.3L131.0,294.2L131.5,294.1L132.0,293.9L132.5,293.8L132.9,293.7L133.4,293.6L133.9,293.4L134.4,293.3L134.8,293.2L135.3,293.0L135.8,292.8L136.2,292.7L136.7,292.5L137.2,292.3L137.6,292.1L138.1,291.9L138.5,291.7L139.0,291.5L139.4,291.3L139.8,291.1L140.3,290.8L140.7,290.6L141.2,290.3L141.6,290.1L142.0,289.8L142.4,289.6L142.9,289.3L143.3,289.1L143.7,288.8L144.1,288.5L144.5,288.2L145.0,288.0L145.4,287.7L145.8,287.4L146.2,287.1L146.6,286.8L147.0,286.6L147.4,286.3L147.8,286.0L148.2,285.7L148.6,285.4L149.0,285.1L149.4,284.8L149.8,284.5L150.2,284.2L150.6,283.9L151.0,283.6L151.4,283.3L151.8,283.0L152.2,282.6L152.6,282.3L153.0,282.0L153.3,281.7L153.7,281.4L154.1,281.0L154.5,280.7L154.9,280.4L155.3,280.1L155.6,279.7L156.0,279.4L156.4,279.1L156.8,278.8L157.2,278.5L157.5,278.1L157.9,277.8L158.3,277.5L158.7,277.2L159.1,276.8L159.4,276.5L159.8,276.2L160.2,275.9L160.6,275.5L161.0,275.2L161.3,274.9L161.7,274.5L162.1,274.2L162.5,273.9L162.8,273.6L163.2,273.2L163.6,272.9L164.0,272.6L164.3,272.2L164.7,271.9L165.1,271.6L165.4,271.2L165.8,270.9L166.2,270.5L166.5,270.2L166.9,269.9L167.3,269.5L167.6,269.2L168.0,268.8L168.3,268.5L168.7,268.1L169.0,267.7L169.4,267.4L169.7,267.0L170.1,266.7L170.4,266.3L170.7,265.9L171.1,265.6L171.4,265.2L171.7,264.8L172.1,264.4L172.4,264.1L172.7,263.7L173.1,263.3L173.4,262.9L173.7,262.6L174.0,262.2L174.3,261.8L174.7,261.4L175.0,261.0L175.3,260.6L175.6,260.2L175.9,259.8L176.2,259.4L176.5,259.0L176.8,258.6L177.1,258.2L177.4,257.8L177.7,257.4L178.0,257.0L178.3,256.6L178.6,256.2L178.9,255.8L179.2,255.4L179.5,255.0L179.7,254.6L180.0,254.2L180.3,253.8L180.6,253.4L180.9,253.0L181.2,252.5L181.4,252.1L181.7,251.7L182.0,251.3L182.3,250.9L182.5,250.5L182.8,250.0L183.1,249.6L183.4,249.2L183.7,248.8L183.9,248.4L184.2,248.0L184.5,247.5L184.8,247.1L185.0,246.7L185.3,246.3L185.6,245.9L185.9,245.5L186.2,245.1L186.5,244.7L186.7,244.3L187.0,243.8L187.3,243.4L187.6,243.0L187.9,242.6L188.2,242.2L188.5,241.8L188.8,241.4L189.1,241.0L189.4,240.6L189.7,240.2L190.0,239.8L190.3,239.4L190.6,239.0L190.9,238.6L191.2,238.3L191.5,237.9L191.9,237.5L192.2,237.1L192.5,236.7L192.8,236.3L193.1,235.9L193.4,235.5L193.8,235.1L194.1,234.8L194.4,234.4L194.7,234.0L195.0,233.6L195.4,233.2L195.7,232.9L196.0,232.5L196.4,232.1L196.7,231.7L197.0,231.4L197.4,231.0L197.7,230.7L198.1,230.3L198.4,229.9L198.8,229.6L199.1,229.3L199.5,228.9L199.8,228.6L200.2,228.2L200.6,227.9L201.0,227.6L201.3,227.3L201.7,226.9L202.1,226.6L202.5,226.3L202.9,226.0L203.3,225.7L203.7,225.4L204.1,225.1L204.5,224.8L204.9,224.5L205.3,224.2L205.7,223.9L206.1,223.6L206.5,223.3L206.9,223.1L207.3,222.8L207.7,222.5L208.2,222.3L208.6,222.0L209.0,221.8L209.4,221.5L209.9,221.3L210.3,221.0L210.7,220.8L211.2,220.6L211.6,220.4L212.0,220.2L212.4,220.0L212.8,219.8L213.2,219.7L213.6,219.5L214.0,219.4L214.4,219.3L214.8,219.1L215.1,219.0L215.5,218.9L215.8,218.8L216.0,218.8L216.3,218.7L216.6,218.6" fill="none" stroke="#36a462" stroke-width="3.2" stroke-linecap="round"/>
<path d="M124.2,295.7L124.5,295.6L124.8,295.5L125.1,295.5L125.4,295.4L125.8,295.3L126.1,295.2L126.5,295.2L126.9,295.1L127.3,295.0L127.8,294.9L128.2,294.8L128.7,294.7L129.1,294.6L129.6,294.5L130.1,294.4L130.5,294.3L131.0,294.2L131.5,294.1L132.0,293.9L132.5,293.8L132.9,293.7L133.4,293.6L133.9,293.4L134.4,293.3L134.8,293.2L135.3,293.0L135.8,292.8L136.2,292.7L136.7,292.5L137.2,292.3L137.6,292.1L138.1,291.9L138.5,291.7L139.0,291.5L139.4,291.3L139.8,291.1L140.3,290.8L140.7,290.6L141.2,290.3L141.6,290.1L142.0,289.8L142.4,289.6L142.9,289.3L143.3,289.1L143.7,288.8L144.1,288.5L144.5,288.2L145.0,288.0L145.4,287.7L145.8,287.4L146.2,287.1L146.6,286.8L147.0,286.6L147.4,286.3L147.8,286.0L148.2,285.7L148.6,285.4L149.0,285.1L149.4,284.8L149.8,284.5L150.2,284.2L150.6,283.9L151.0,283.6L151.4,283.3L151.8,283.0L152.2,282.6L152.6,282.3L153.0,282.0L153.3,281.7L153.7,281.4L154.1,281.0L154.5,280.7L154.9,280.4L155.3,280.1L155.6,279.7L156.0,279.4L156.4,279.1L156.8,278.8L157.2,278.5L157.5,278.1L157.9,277.8L158.3,277.5L158.7,277.2L159.1,276.8L159.4,276.5L159.8,276.2L160.2,275.9L160.6,275.5L161.0,275.2L161.3,274.9L161.7,274.5L162.1,274.2L162.5,273.9L162.8,273.6L163.2,273.2L163.6,272.9L164.0,272.6L164.3,272.2L164.7,271.9L165.1,271.6L165.4,271.2L165.8,270.9L166.2,270.5L166.5,270.2L166.9,269.9L167.3,269.5L167.6,269.2L168.0,268.8L168.3,268.5L168.7,268.1L169.0,267.7L169.4,267.4L169.7,267.0L170.1,266.7L170.4,266.3L170.7,265.9L171.1,265.6L171.4,265.2L171.7,264.8L172.1,264.4L172.4,264.1L172.7,263.7L173.1,263.3L173.4,262.9L173.7,262.6L174.0,262.2L174.3,261.8L174.7,261.4L175.0,261.0L175.3,260.6L175.6,260.2L175.9,259.8L176.2,259.4L176.5,259.0L176.8,258.6L177.1,258.2L177.4,257.8L177.7,257.4L178.0,257.0L178.3,256.6L178.6,256.2L178.9,255.8L179.2,255.4L179.5,255.0L179.7,254.6L180.0,254.2L180.3,253.8L180.6,253.4L180.9,253.0L181.2,252.5L181.4,252.1L181.7,251.7L182.0,251.3L182.3,250.9L182.5,250.5L182.8,250.0L183.1,249.6L183.4,249.2L183.7,248.8L183.9,248.4L184.2,248.0L184.5,247.5L184.8,247.1L185.0,246.7L185.3,246.3L185.6,245.9L185.9,245.5L186.2,245.1L186.5,244.7L186.7,244.3L187.0,243.8L187.3,243.4L187.6,243.0L187.9,242.6L188.2,242.2L188.5,241.8L188.8,241.4L189.1,241.0L189.4,240.6L189.7,240.2L190.0,239.8L190.3,239.4L190.6,239.0L190.9,238.6L191.2,238.3L191.5,237.9L191.9,237.5L192.2,237.1L192.5,236.7L192.8,236.3L193.1,235.9L193.4,235.5L193.8,235.1L194.1,234.8L194.4,234.4L194.7,234.0L195.0,233.6L195.4,233.2L195.7,232.9L196.0,232.5L196.4,232.1L196.7,231.7L197.0,231.4L197.4,231.0L197.7,230.7L198.1,230.3L198.4,229.9L198.8,229.6L199.1,229.3L199.5,228.9L199.8,228.6L200.2,228.2L200.6,227.9L201.0,227.6L201.3,227.3L201.7,226.9L202.1,226.6L202.5,226.3L202.9,226.0L203.3,225.7L203.7,225.4L204.1,225.1L204.5,224.8L204.9,224.5L205.3,224.2L205.7,223.9L206.1,223.6L206.5,223.3L206.9,223.1L207.3,222.8L207.7,222.5L208.2,222.3L208.6,222.0L209.0,221.8L209.4,221.5L209.9,221.3L210.3,221.0L210.7,220.8L211.2,220.6L211.6,220.4L212.0,220.2L212.4,220.0L212.8,219.8L213.2,219.7L213.6,219.5L214.0,219.4L214.4,219.3L214.8,219.1L215.1,219.0L215.5,218.9L215.8,218.8L216.0,218.8L216.3,218.7L216.6,218.6" fill="none" stroke="#fff" stroke-opacity="0.35" stroke-width="0.9" stroke-dasharray="0.7,1.5"/>
<path d="M124.3,301.8L124.5,301.8L124.8,301.7L125.1,301.7L125.5,301.6L125.8,301.6L126.2,301.5L126.6,301.4L127.0,301.4L127.4,301.3L127.8,301.2L128.3,301.1L128.7,301.0L129.2,300.9L129.6,300.8L130.1,300.7L130.6,300.6L131.1,300.5L131.5,300.4L132.0,300.2L132.5,300.1L133.0,300.0L133.4,299.8L133.9,299.7L134.4,299.5L134.8,299.3L135.3,299.1L135.7,299.0L136.2,298.8L136.6,298.6L137.1,298.4L137.5,298.1L138.0,297.9L138.4,297.7L138.9,297.5L139.3,297.2L139.7,297.0L140.2,296.7L140.6,296.5L141.0,296.2L141.5,296.0L141.9,295.7L142.3,295.5L142.7,295.2L143.2,294.9L143.6,294.7L144.0,294.4L144.4,294.1L144.9,293.9L145.3,293.6L145.7,293.3L146.1,293.1L146.5,292.8L147.0,292.5L147.4,292.3L147.8,292.0L148.2,291.7L148.6,291.4L149.0,291.1L149.5,290.9L149.9,290.6L150.3,290.3L150.7,290.0L151.1,289.7L151.5,289.4L151.9,289.2L152.3,288.9L152.7,288.6L153.1,288.3L153.6,288.0L154.0,287.7L154.4,287.4L154.8,287.1L155.2,286.8L155.6,286.5L156.0,286.2L156.4,286.0L156.8,285.7L157.2,285.4L157.6,285.1L158.0,284.8L158.4,284.5L158.8,284.2L159.2,283.9L159.6,283.6L160.1,283.4L160.5,283.1L160.9,282.8L161.3,282.5L161.7,282.2L162.1,282.0L162.5,281.7L163.0,281.4L163.4,281.1L163.8,280.8L164.2,280.6L164.6,280.3L165.0,280.0L165.4,279.7L165.8,279.4L166.2,279.1L166.6,278.8L167.1,278.6L167.5,278.3L167.9,278.0L168.3,277.7L168.7,277.4L169.1,277.1L169.5,276.8L169.9,276.5L170.3,276.2L170.7,275.9L171.1,275.6L171.5,275.3L171.8,275.0L172.2,274.6L172.6,274.3L173.0,274.0L173.4,273.7L173.8,273.4L174.2,273.1L174.6,272.8L175.0,272.5L175.4,272.2L175.8,271.9L176.2,271.6L176.6,271.2L177.0,270.9L177.3,270.6L177.7,270.3L178.1,270.0L178.5,269.7L178.9,269.4L179.3,269.0L179.7,268.7L180.0,268.4L180.4,268.1L180.8,267.7L181.2,267.4L181.6,267.1L181.9,266.8L182.3,266.4L182.7,266.1L183.1,265.8L183.4,265.4L183.8,265.1L184.2,264.8L184.6,264.5L184.9,264.1L185.3,263.8L185.7,263.5L186.1,263.1L186.4,262.8L186.8,262.5L187.2,262.1L187.6,261.8L187.9,261.5L188.3,261.1L188.7,260.8L189.1,260.5L189.4,260.1L189.8,259.8L190.2,259.5L190.6,259.2L190.9,258.8L191.3,258.5L191.7,258.2L192.1,257.8L192.4,257.5L192.8,257.2L193.2,256.9L193.6,256.5L194.0,256.2L194.3,255.9L194.7,255.6L195.1,255.2L195.5,254.9L195.9,254.6L196.2,254.3L196.6,253.9L197.0,253.6L197.4,253.3L197.8,253.0L198.1,252.6L198.5,252.3L198.9,252.0L199.3,251.7L199.7,251.3L200.0,251.0L200.4,250.7L200.8,250.4L201.2,250.0L201.6,249.7L201.9,249.4L202.3,249.1L202.7,248.8L203.1,248.4L203.5,248.1L203.9,247.8L204.3,247.5L204.6,247.2L205.0,246.9L205.4,246.6L205.8,246.2L206.2,245.9L206.6,245.6L207.0,245.4L207.4,245.1L207.8,244.8L208.2,244.5L208.6,244.2L209.1,244.0L209.5,243.7L209.9,243.4L210.3,243.2L210.7,243.0L211.1,242.7L211.6,242.5L212.0,242.3L212.4,242.1L212.8,241.9L213.2,241.8L213.6,241.6L214.0,241.5L214.4,241.3L214.7,241.2L215.1,241.1L215.4,241.0L215.7,240.9L216.0,240.8L216.3,240.7L216.5,240.6" fill="none" stroke="#e6444a" stroke-width="3.2" stroke-linecap="round"/>
<path d="M124.3,301.8L124.5,301.8L124.8,301.7L125.1,301.7L125.5,301.6L125.8,301.6L126.2,301.5L126.6,301.4L127.0,301.4L127.4,301.3L127.8,301.2L128.3,301.1L128.7,301.0L129.2,300.9L129.6,300.8L130.1,300.7L130.6,300.6L131.1,300.5L131.5,300.4L132.0,300.2L132.5,300.1L133.0,300.0L133.4,299.8L133.9,299.7L134.4,299.5L134.8,299.3L135.3,299.1L135.7,299.0L136.2,298.8L136.6,298.6L137.1,298.4L137.5,298.1L138.0,297.9L138.4,297.7L138.9,297.5L139.3,297.2L139.7,297.0L140.2,296.7L140.6,296.5L141.0,296.2L141.5,296.0L141.9,295.7L142.3,295.5L142.7,295.2L143.2,294.9L143.6,294.7L144.0,294.4L144.4,294.1L144.9,293.9L145.3,293.6L145.7,293.3L146.1,293.1L146.5,292.8L147.0,292.5L147.4,292.3L147.8,292.0L148.2,291.7L148.6,291.4L149.0,291.1L149.5,290.9L149.9,290.6L150.3,290.3L150.7,290.0L151.1,289.7L151.5,289.4L151.9,289.2L152.3,288.9L152.7,288.6L153.1,288.3L153.6,288.0L154.0,287.7L154.4,287.4L154.8,287.1L155.2,286.8L155.6,286.5L156.0,286.2L156.4,286.0L156.8,285.7L157.2,285.4L157.6,285.1L158.0,284.8L158.4,284.5L158.8,284.2L159.2,283.9L159.6,283.6L160.1,283.4L160.5,283.1L160.9,282.8L161.3,282.5L161.7,282.2L162.1,282.0L162.5,281.7L163.0,281.4L163.4,281.1L163.8,280.8L164.2,280.6L164.6,280.3L165.0,280.0L165.4,279.7L165.8,279.4L166.2,279.1L166.6,278.8L167.1,278.6L167.5,278.3L167.9,278.0L168.3,277.7L168.7,277.4L169.1,277.1L169.5,276.8L169.9,276.5L170.3,276.2L170.7,275.9L171.1,275.6L171.5,275.3L171.8,275.0L172.2,274.6L172.6,274.3L173.0,274.0L173.4,273.7L173.8,273.4L174.2,273.1L174.6,272.8L175.0,272.5L175.4,272.2L175.8,271.9L176.2,271.6L176.6,271.2L177.0,270.9L177.3,270.6L177.7,270.3L178.1,270.0L178.5,269.7L178.9,269.4L179.3,269.0L179.7,268.7L180.0,268.4L180.4,268.1L180.8,267.7L181.2,267.4L181.6,267.1L181.9,266.8L182.3,266.4L182.7,266.1L183.1,265.8L183.4,265.4L183.8,265.1L184.2,264.8L184.6,264.5L184.9,264.1L185.3,263.8L185.7,263.5L186.1,263.1L186.4,262.8L186.8,262.5L187.2,262.1L187.6,261.8L187.9,261.5L188.3,261.1L188.7,260.8L189.1,260.5L189.4,260.1L189.8,259.8L190.2,259.5L190.6,259.2L190.9,258.8L191.3,258.5L191.7,258.2L192.1,257.8L192.4,257.5L192.8,257.2L193.2,256.9L193.6,256.5L194.0,256.2L194.3,255.9L194.7,255.6L195.1,255.2L195.5,254.9L195.9,254.6L196.2,254.3L196.6,253.9L197.0,253.6L197.4,253.3L197.8,253.0L198.1,252.6L198.5,252.3L198.9,252.0L199.3,251.7L199.7,251.3L200.0,251.0L200.4,250.7L200.8,250.4L201.2,250.0L201.6,249.7L201.9,249.4L202.3,249.1L202.7,248.8L203.1,248.4L203.5,248.1L203.9,247.8L204.3,247.5L204.6,247.2L205.0,246.9L205.4,246.6L205.8,246.2L206.2,245.9L206.6,245.6L207.0,245.4L207.4,245.1L207.8,244.8L208.2,244.5L208.6,244.2L209.1,244.0L209.5,243.7L209.9,243.4L210.3,243.2L210.7,243.0L211.1,242.7L211.6,242.5L212.0,242.3L212.4,242.1L212.8,241.9L213.2,241.8L213.6,241.6L214.0,241.5L214.4,241.3L214.7,241.2L215.1,241.1L215.4,241.0L215.7,240.9L216.0,240.8L216.3,240.7L216.5,240.6" fill="none" stroke="#fff" stroke-opacity="0.35" stroke-width="0.9" stroke-dasharray="0.7,1.5"/>
<path d="M124.3,317.6L124.5,317.6L124.8,317.7L125.1,317.7L125.5,317.7L125.8,317.7L126.2,317.8L126.6,317.8L127.0,317.8L127.4,317.8L127.8,317.8L128.3,317.8L128.7,317.8L129.2,317.8L129.7,317.8L130.2,317.8L130.6,317.7L131.1,317.7L131.6,317.6L132.1,317.6L132.6,317.5L133.1,317.4L133.5,317.3L134.0,317.2L134.5,317.1L135.0,317.0L135.5,316.9L135.9,316.8L136.4,316.6L136.9,316.5L137.4,316.4L137.9,316.2L138.3,316.1L138.8,315.9L139.3,315.7L139.7,315.6L140.2,315.4L140.7,315.2L141.1,315.0L141.6,314.9L142.1,314.7L142.5,314.5L143.0,314.3L143.5,314.1L143.9,314.0L144.4,313.8L144.9,313.6L145.3,313.4L145.8,313.2L146.3,313.0L146.7,312.9L147.2,312.7L147.6,312.5L148.1,312.3L148.6,312.1L149.0,311.9L149.5,311.7L150.0,311.5L150.4,311.4L150.9,311.2L151.4,311.0L151.8,310.8L152.3,310.6L152.7,310.4L153.2,310.2L153.7,310.0L154.1,309.8L154.6,309.7L155.1,309.5L155.5,309.3L156.0,309.1L156.4,308.9L156.9,308.7L157.4,308.5L157.8,308.3L158.3,308.1L158.7,307.9L159.2,307.7L159.7,307.5L160.1,307.3L160.6,307.1L161.0,306.9L161.5,306.7L161.9,306.5L162.4,306.3L162.8,306.1L163.3,305.8L163.7,305.6L164.2,305.4L164.6,305.2L165.1,305.0L165.5,304.7L166.0,304.5L166.4,304.3L166.8,304.0L167.3,303.8L167.7,303.5L168.2,303.3L168.6,303.1L169.0,302.8L169.5,302.6L169.9,302.3L170.3,302.1L170.8,301.8L171.2,301.6L171.6,301.3L172.1,301.1L172.5,300.8L172.9,300.6L173.4,300.3L173.8,300.1L174.2,299.8L174.6,299.6L175.1,299.3L175.5,299.0L175.9,298.8L176.4,298.5L176.8,298.3L177.2,298.0L177.6,297.7L178.1,297.5L178.5,297.2L178.9,296.9L179.3,296.7L179.7,296.4L180.2,296.1L180.6,295.8L181.0,295.6L181.4,295.3L181.8,295.0L182.3,294.7L182.7,294.5L183.1,294.2L183.5,293.9L183.9,293.7L184.3,293.4L184.8,293.1L185.2,292.8L185.6,292.6L186.0,292.3L186.4,292.0L186.9,291.8L187.3,291.5L187.7,291.2L188.1,291.0L188.6,290.7L189.0,290.4L189.4,290.2L189.8,289.9L190.3,289.6L190.7,289.4L191.1,289.1L191.5,288.9L192.0,288.6L192.4,288.4L192.8,288.1L193.3,287.9L193.7,287.6L194.1,287.4L194.6,287.1L195.0,286.9L195.5,286.6L195.9,286.4L196.3,286.2L196.8,285.9L197.2,285.7L197.7,285.5L198.1,285.2L198.5,285.0L199.0,284.8L199.4,284.6L199.9,284.4L200.3,284.1L200.8,283.9L201.2,283.7L201.7,283.5L202.2,283.3L202.6,283.1L203.1,282.9L203.5,282.7L204.0,282.5L204.5,282.3L204.9,282.2L205.4,282.0L205.8,281.8L206.3,281.7L206.8,281.5L207.3,281.3L207.7,281.2L208.2,281.1L208.7,280.9L209.2,280.8L209.6,280.7L210.1,280.6L210.6,280.4L211.0,280.3L211.5,280.2L212.0,280.2L212.4,280.1L212.9,280.0L213.3,279.9L213.7,279.8L214.1,279.8L214.5,279.7L214.9,279.7L215.2,279.6L215.6,279.6L215.9,279.5L216.2,279.5L216.4,279.5L216.7,279.4" fill="none" stroke="#3468c2" stroke-width="3.2" stroke-linecap="round"/>
<path d="M124.3,317.6L124.5,317.6L124.8,317.7L125.1,317.7L125.5,317.7L125.8,317.7L126.2,317.8L126.6,317.8L127.0,317.8L127.4,317.8L127.8,317.8L128.3,317.8L128.7,317.8L129.2,317.8L129.7,317.8L130.2,317.8L130.6,317.7L131.1,317.7L131.6,317.6L132.1,317.6L132.6,317.5L133.1,317.4L133.5,317.3L134.0,317.2L134.5,317.1L135.0,317.0L135.5,316.9L135.9,316.8L136.4,316.6L136.9,316.5L137.4,316.4L137.9,316.2L138.3,316.1L138.8,315.9L139.3,315.7L139.7,315.6L140.2,315.4L140.7,315.2L141.1,315.0L141.6,314.9L142.1,314.7L142.5,314.5L143.0,314.3L143.5,314.1L143.9,314.0L144.4,313.8L144.9,313.6L145.3,313.4L145.8,313.2L146.3,313.0L146.7,312.9L147.2,312.7L147.6,312.5L148.1,312.3L148.6,312.1L149.0,311.9L149.5,311.7L150.0,311.5L150.4,311.4L150.9,311.2L151.4,311.0L151.8,310.8L152.3,310.6L152.7,310.4L153.2,310.2L153.7,310.0L154.1,309.8L154.6,309.7L155.1,309.5L155.5,309.3L156.0,309.1L156.4,308.9L156.9,308.7L157.4,308.5L157.8,308.3L158.3,308.1L158.7,307.9L159.2,307.7L159.7,307.5L160.1,307.3L160.6,307.1L161.0,306.9L161.5,306.7L161.9,306.5L162.4,306.3L162.8,306.1L163.3,305.8L163.7,305.6L164.2,305.4L164.6,305.2L165.1,305.0L165.5,304.7L166.0,304.5L166.4,304.3L166.8,304.0L167.3,303.8L167.7,303.5L168.2,303.3L168.6,303.1L169.0,302.8L169.5,302.6L169.9,302.3L170.3,302.1L170.8,301.8L171.2,301.6L171.6,301.3L172.1,301.1L172.5,300.8L172.9,300.6L173.4,300.3L173.8,300.1L174.2,299.8L174.6,299.6L175.1,299.3L175.5,299.0L175.9,298.8L176.4,298.5L176.8,298.3L177.2,298.0L177.6,297.7L178.1,297.5L178.5,297.2L178.9,296.9L179.3,296.7L179.7,296.4L180.2,296.1L180.6,295.8L181.0,295.6L181.4,295.3L181.8,295.0L182.3,294.7L182.7,294.5L183.1,294.2L183.5,293.9L183.9,293.7L184.3,293.4L184.8,293.1L185.2,292.8L185.6,292.6L186.0,292.3L186.4,292.0L186.9,291.8L187.3,291.5L187.7,291.2L188.1,291.0L188.6,290.7L189.0,290.4L189.4,290.2L189.8,289.9L190.3,289.6L190.7,289.4L191.1,289.1L191.5,288.9L192.0,288.6L192.4,288.4L192.8,288.1L193.3,287.9L193.7,287.6L194.1,287.4L194.6,287.1L195.0,286.9L195.5,286.6L195.9,286.4L196.3,286.2L196.8,285.9L197.2,285.7L197.7,285.5L198.1,285.2L198.5,285.0L199.0,284.8L199.4,284.6L199.9,284.4L200.3,284.1L200.8,283.9L201.2,283.7L201.7,283.5L202.2,283.3L202.6,283.1L203.1,282.9L203.5,282.7L204.0,282.5L204.5,282.3L204.9,282.2L205.4,282.0L205.8,281.8L206.3,281.7L206.8,281.5L207.3,281.3L207.7,281.2L208.2,281.1L208.7,280.9L209.2,280.8L209.6,280.7L210.1,280.6L210.6,280.4L211.0,280.3L211.5,280.2L212.0,280.2L212.4,280.1L212.9,280.0L213.3,279.9L213.7,279.8L214.1,279.8L214.5,279.7L214.9,279.7L215.2,279.6L215.6,279.6L215.9,279.5L216.2,279.5L216.4,279.5L216.7,279.4" fill="none" stroke="#fff" stroke-opacity="0.35" stroke-width="0.9" stroke-dasharray="0.7,1.5"/>
<line x1="51.5" y1="356" x2="123.1" y2="318" stroke="#3468c2" stroke-width="1.1" stroke-dasharray="2.5,2.2"/>
<line x1="68.6" y1="355.8" x2="143.1" y2="298.1" stroke="#e6444a" stroke-width="1.1" stroke-dasharray="2.5,2.2"/>
<line x1="93.5" y1="356.2" x2="143.5" y2="299.5" stroke="#3aa060" stroke-width="1.1" stroke-dasharray="2.5,2.2"/>
<line x1="50.4" y1="340.5" x2="50.4" y2="354" stroke="#3468c2" stroke-width="1.1"/>
<path d="M48.9,349.5 L50.4,355.6 L51.9,349.5 L50.4,351 Z" fill="#3468c2"/>
<line x1="79" y1="327.5" x2="69.6" y2="353" stroke="#e6444a" stroke-width="1.1"/>
<path d="M68.4,348.2 L69.2,354.4 L72.4,349.2 L70.3,350 Z" fill="#e6444a"/>
<text x="44.5" y="338.9" font-size="10" text-anchor="start" font-weight="bold" fill="#3a6ac8" stroke="#3a6ac8" stroke-width="0.22" >-0.64</text>
<text x="68" y="325.3" font-size="10" text-anchor="start" font-weight="bold" fill="#e23a44" stroke="#e23a44" stroke-width="0.22" >-0.52</text>
<text x="102.6" y="353.4" font-size="9.7" text-anchor="start" font-weight="bold" fill="#8cb04a" stroke="#8cb04a" stroke-width="0.22" >-0.31</text>
<text x="145" y="250.2" font-size="10" text-anchor="start" font-weight="bold" fill="#36a462" stroke="#36a462" stroke-width="0.22" >CeO<tspan font-size="6.6" dy="2.9">2</tspan></text>
<text x="185.8" y="274.8" font-size="10" text-anchor="start" font-weight="bold" fill="#e6444a" stroke="#e6444a" stroke-width="0.22" >ZIS</text>
<text transform="translate(183.6,307.4) scale(1,1.12)" font-size="9.8" text-anchor="start" font-weight="bold" fill="#3468c2" stroke="#3468c2" stroke-width="0.22" >ZCIS</text>
<rect x="271.1" y="205.5" width="174.20" height="150.60" fill="none" stroke="#333" stroke-width="1.3"/>
<line x1="284.50" y1="356.10" x2="284.50" y2="353.10" stroke="#1a1a1a" stroke-width="1"/>
<line x1="297.90" y1="356.10" x2="297.90" y2="354.30" stroke="#1a1a1a" stroke-width="1"/>
<line x1="311.30" y1="356.10" x2="311.30" y2="353.10" stroke="#1a1a1a" stroke-width="1"/>
<line x1="324.70" y1="356.10" x2="324.70" y2="354.30" stroke="#1a1a1a" stroke-width="1"/>
<line x1="338.10" y1="356.10" x2="338.10" y2="353.10" stroke="#1a1a1a" stroke-width="1"/>
<line x1="351.50" y1="356.10" x2="351.50" y2="354.30" stroke="#1a1a1a" stroke-width="1"/>
<line x1="364.90" y1="356.10" x2="364.90" y2="353.10" stroke="#1a1a1a" stroke-width="1"/>
<line x1="378.30" y1="356.10" x2="378.30" y2="354.30" stroke="#1a1a1a" stroke-width="1"/>
<line x1="391.70" y1="356.10" x2="391.70" y2="353.10" stroke="#1a1a1a" stroke-width="1"/>
<line x1="405.10" y1="356.10" x2="405.10" y2="354.30" stroke="#1a1a1a" stroke-width="1"/>
<line x1="418.50" y1="356.10" x2="418.50" y2="353.10" stroke="#1a1a1a" stroke-width="1"/>
<line x1="431.90" y1="356.10" x2="431.90" y2="354.30" stroke="#1a1a1a" stroke-width="1"/>
<text transform="translate(284.50,367) scale(1,1.06)" font-size="9.6" text-anchor="middle" font-weight="bold" fill="#000" stroke="#000" stroke-width="0.22" >-0.6</text>
<text transform="translate(311.30,367) scale(1,1.06)" font-size="9.6" text-anchor="middle" font-weight="bold" fill="#000" stroke="#000" stroke-width="0.22" >-0.4</text>
<text transform="translate(338.10,367) scale(1,1.06)" font-size="9.6" text-anchor="middle" font-weight="bold" fill="#000" stroke="#000" stroke-width="0.22" >-0.2</text>
<text transform="translate(364.90,367) scale(1,1.06)" font-size="9.6" text-anchor="middle" font-weight="bold" fill="#000" stroke="#000" stroke-width="0.22" >0.0</text>
<text transform="translate(391.70,367) scale(1,1.06)" font-size="9.6" text-anchor="middle" font-weight="bold" fill="#000" stroke="#000" stroke-width="0.22" >0.2</text>
<text transform="translate(418.50,367) scale(1,1.06)" font-size="9.6" text-anchor="middle" font-weight="bold" fill="#000" stroke="#000" stroke-width="0.22" >0.4</text>
<text transform="translate(445.30,367) scale(1,1.06)" font-size="9.6" text-anchor="middle" font-weight="bold" fill="#000" stroke="#000" stroke-width="0.22" >0.6</text>
<line x1="271.10" y1="341.04" x2="272.90" y2="341.04" stroke="#1a1a1a" stroke-width="1"/>
<line x1="271.10" y1="325.98" x2="274.10" y2="325.98" stroke="#1a1a1a" stroke-width="1"/>
<line x1="271.10" y1="310.92" x2="272.90" y2="310.92" stroke="#1a1a1a" stroke-width="1"/>
<line x1="271.10" y1="295.86" x2="274.10" y2="295.86" stroke="#1a1a1a" stroke-width="1"/>
<line x1="271.10" y1="280.80" x2="272.90" y2="280.80" stroke="#1a1a1a" stroke-width="1"/>
<line x1="271.10" y1="265.74" x2="274.10" y2="265.74" stroke="#1a1a1a" stroke-width="1"/>
<line x1="271.10" y1="250.68" x2="272.90" y2="250.68" stroke="#1a1a1a" stroke-width="1"/>
<line x1="271.10" y1="235.62" x2="274.10" y2="235.62" stroke="#1a1a1a" stroke-width="1"/>
<line x1="271.10" y1="220.56" x2="272.90" y2="220.56" stroke="#1a1a1a" stroke-width="1"/>
<text transform="translate(267.60,359.70) scale(1,1.06)" font-size="9.6" text-anchor="end" font-weight="bold" fill="#000" stroke="#000" stroke-width="0.22" >0</text>
<text transform="translate(267.60,329.58) scale(1,1.06)" font-size="9.6" text-anchor="end" font-weight="bold" fill="#000" stroke="#000" stroke-width="0.22" >8</text>
<text transform="translate(267.60,299.46) scale(1,1.06)" font-size="9.6" text-anchor="end" font-weight="bold" fill="#000" stroke="#000" stroke-width="0.22" >16</text>
<text transform="translate(267.60,269.34) scale(1,1.06)" font-size="9.6" text-anchor="end" font-weight="bold" fill="#000" stroke="#000" stroke-width="0.22" >24</text>
<text transform="translate(267.60,239.22) scale(1,1.06)" font-size="9.6" text-anchor="end" font-weight="bold" fill="#000" stroke="#000" stroke-width="0.22" >32</text>
<text transform="translate(267.60,209.10) scale(1,1.06)" font-size="9.6" text-anchor="end" font-weight="bold" fill="#000" stroke="#000" stroke-width="0.22" >40</text>
<text x="357.9" y="386" font-size="13.5" text-anchor="middle" font-weight="bold" fill="#000" stroke="#000" stroke-width="0.22" >Potential (V <tspan font-style="italic">vs</tspan>. NHE)</text>
<text x="236.60320000000002" y="211.2" font-size="16.5" text-anchor="start" font-weight="bold" fill="#000" stroke="#000" stroke-width="0.22" >e</text>
<text transform="translate(248.516,327.5) rotate(-90) scale(1,1.0)" font-size="13" text-anchor="start" font-weight="bold" fill="#000" stroke="#000" stroke-width="0.22">1/C<tspan font-size="9" dy="-6.5">2</tspan><tspan dy="6.5"> (10</tspan><tspan font-size="9" dy="-6.5">8</tspan><tspan dy="6.5"> F</tspan><tspan font-size="9" dy="-6.5">−2</tspan><tspan dy="6.5"> cm</tspan><tspan font-size="9" dy="-6.5">4</tspan><tspan dy="6.5">)</tspan></text>
<path d="M352.6,302.1L352.9,302.0L353.2,302.0L353.5,301.9L353.8,301.8L354.1,301.7L354.5,301.6L354.9,301.5L355.3,301.4L355.7,301.3L356.1,301.2L356.6,301.1L357.0,301.0L357.5,300.9L357.9,300.8L358.4,300.6L358.9,300.5L359.4,300.4L359.8,300.3L360.3,300.2L360.8,300.0L361.3,299.9L361.8,299.8L362.2,299.6L362.7,299.5L363.2,299.4L363.7,299.2L364.2,299.1L364.6,299.0L365.1,298.8L365.6,298.7L366.1,298.5L366.5,298.4L367.0,298.2L367.5,298.1L368.0,297.9L368.4,297.7L368.9,297.6L369.4,297.4L369.9,297.2L370.3,297.1L370.8,296.9L371.2,296.7L371.7,296.5L372.2,296.3L372.6,296.1L373.1,295.9L373.5,295.7L374.0,295.5L374.5,295.3L374.9,295.1L375.4,294.9L375.8,294.7L376.3,294.5L376.7,294.2L377.1,294.0L377.6,293.8L378.0,293.6L378.5,293.3L378.9,293.1L379.3,292.8L379.8,292.6L380.2,292.3L380.6,292.1L381.1,291.8L381.5,291.6L381.9,291.3L382.3,291.0L382.8,290.8L383.2,290.5L383.6,290.2L384.0,290.0L384.4,289.7L384.8,289.4L385.3,289.1L385.7,288.8L386.1,288.5L386.5,288.2L386.9,287.9L387.3,287.7L387.7,287.4L388.1,287.1L388.5,286.8L388.9,286.5L389.3,286.2L389.7,285.9L390.1,285.6L390.5,285.3L390.9,285.0L391.3,284.7L391.7,284.4L392.1,284.1L392.5,283.8L392.9,283.5L393.3,283.2L393.7,282.9L394.1,282.6L394.5,282.3L394.9,282.0L395.3,281.7L395.7,281.4L396.1,281.1L396.5,280.8L396.9,280.5L397.3,280.2L397.7,279.9L398.1,279.6L398.5,279.3L398.9,279.0L399.3,278.7L399.7,278.4L400.1,278.1L400.5,277.8L400.9,277.5L401.3,277.2L401.7,276.9L402.1,276.6L402.5,276.3L402.9,276.0L403.3,275.7L403.7,275.4L404.1,275.1L404.5,274.8L404.9,274.4L405.2,274.1L405.6,273.8L406.0,273.5L406.4,273.2L406.8,272.9L407.2,272.5L407.5,272.2L407.9,271.9L408.3,271.6L408.7,271.2L409.1,270.9L409.4,270.6L409.8,270.2L410.2,269.9L410.5,269.6L410.9,269.2L411.3,268.9L411.6,268.6L412.0,268.2L412.4,267.9L412.8,267.5L413.1,267.2L413.5,266.9L413.9,266.5L414.2,266.2L414.6,265.8L415.0,265.5L415.3,265.2L415.7,264.8L416.1,264.5L416.5,264.2L416.8,263.8L417.2,263.5L417.6,263.2L418.0,262.9L418.3,262.5L418.7,262.2L419.1,261.9L419.5,261.6L419.9,261.2L420.2,260.9L420.6,260.6L421.0,260.3L421.4,260.0L421.8,259.6L422.2,259.3L422.6,259.0L422.9,258.7L423.3,258.4L423.7,258.1L424.1,257.8L424.5,257.5L424.9,257.2L425.3,256.9L425.7,256.6L426.1,256.3L426.6,256.0L427.0,255.7L427.4,255.4L427.8,255.2L428.2,254.9L428.6,254.6L429.0,254.3L429.4,254.0L429.8,253.8L430.3,253.5L430.7,253.2L431.1,252.9L431.5,252.7L431.9,252.4L432.4,252.1L432.8,251.9L433.2,251.6L433.7,251.4L434.1,251.1L434.5,250.9L434.9,250.6L435.4,250.4L435.8,250.1L436.2,249.9L436.7,249.7L437.1,249.4L437.6,249.2L438.0,249.0L438.4,248.8L438.9,248.6L439.3,248.3L439.7,248.1L440.2,248.0L440.6,247.8L441.0,247.6L441.4,247.4L441.8,247.2L442.1,247.1L442.5,246.9L442.8,246.8L443.1,246.7L443.4,246.5L443.7,246.4L443.9,246.3L444.2,246.2" fill="none" stroke="#e6444a" stroke-width="3.2" stroke-linecap="round"/>
<path d="M352.6,302.1L352.9,302.0L353.2,302.0L353.5,301.9L353.8,301.8L354.1,301.7L354.5,301.6L354.9,301.5L355.3,301.4L355.7,301.3L356.1,301.2L356.6,301.1L357.0,301.0L357.5,300.9L357.9,300.8L358.4,300.6L358.9,300.5L359.4,300.4L359.8,300.3L360.3,300.2L360.8,300.0L361.3,299.9L361.8,299.8L362.2,299.6L362.7,299.5L363.2,299.4L363.7,299.2L364.2,299.1L364.6,299.0L365.1,298.8L365.6,298.7L366.1,298.5L366.5,298.4L367.0,298.2L367.5,298.1L368.0,297.9L368.4,297.7L368.9,297.6L369.4,297.4L369.9,297.2L370.3,297.1L370.8,296.9L371.2,296.7L371.7,296.5L372.2,296.3L372.6,296.1L373.1,295.9L373.5,295.7L374.0,295.5L374.5,295.3L374.9,295.1L375.4,294.9L375.8,294.7L376.3,294.5L376.7,294.2L377.1,294.0L377.6,293.8L378.0,293.6L378.5,293.3L378.9,293.1L379.3,292.8L379.8,292.6L380.2,292.3L380.6,292.1L381.1,291.8L381.5,291.6L381.9,291.3L382.3,291.0L382.8,290.8L383.2,290.5L383.6,290.2L384.0,290.0L384.4,289.7L384.8,289.4L385.3,289.1L385.7,288.8L386.1,288.5L386.5,288.2L386.9,287.9L387.3,287.7L387.7,287.4L388.1,287.1L388.5,286.8L388.9,286.5L389.3,286.2L389.7,285.9L390.1,285.6L390.5,285.3L390.9,285.0L391.3,284.7L391.7,284.4L392.1,284.1L392.5,283.8L392.9,283.5L393.3,283.2L393.7,282.9L394.1,282.6L394.5,282.3L394.9,282.0L395.3,281.7L395.7,281.4L396.1,281.1L396.5,280.8L396.9,280.5L397.3,280.2L397.7,279.9L398.1,279.6L398.5,279.3L398.9,279.0L399.3,278.7L399.7,278.4L400.1,278.1L400.5,277.8L400.9,277.5L401.3,277.2L401.7,276.9L402.1,276.6L402.5,276.3L402.9,276.0L403.3,275.7L403.7,275.4L404.1,275.1L404.5,274.8L404.9,274.4L405.2,274.1L405.6,273.8L406.0,273.5L406.4,273.2L406.8,272.9L407.2,272.5L407.5,272.2L407.9,271.9L408.3,271.6L408.7,271.2L409.1,270.9L409.4,270.6L409.8,270.2L410.2,269.9L410.5,269.6L410.9,269.2L411.3,268.9L411.6,268.6L412.0,268.2L412.4,267.9L412.8,267.5L413.1,267.2L413.5,266.9L413.9,266.5L414.2,266.2L414.6,265.8L415.0,265.5L415.3,265.2L415.7,264.8L416.1,264.5L416.5,264.2L416.8,263.8L417.2,263.5L417.6,263.2L418.0,262.9L418.3,262.5L418.7,262.2L419.1,261.9L419.5,261.6L419.9,261.2L420.2,260.9L420.6,260.6L421.0,260.3L421.4,260.0L421.8,259.6L422.2,259.3L422.6,259.0L422.9,258.7L423.3,258.4L423.7,258.1L424.1,257.8L424.5,257.5L424.9,257.2L425.3,256.9L425.7,256.6L426.1,256.3L426.6,256.0L427.0,255.7L427.4,255.4L427.8,255.2L428.2,254.9L428.6,254.6L429.0,254.3L429.4,254.0L429.8,253.8L430.3,253.5L430.7,253.2L431.1,252.9L431.5,252.7L431.9,252.4L432.4,252.1L432.8,251.9L433.2,251.6L433.7,251.4L434.1,251.1L434.5,250.9L434.9,250.6L435.4,250.4L435.8,250.1L436.2,249.9L436.7,249.7L437.1,249.4L437.6,249.2L438.0,249.0L438.4,248.8L438.9,248.6L439.3,248.3L439.7,248.1L440.2,248.0L440.6,247.8L441.0,247.6L441.4,247.4L441.8,247.2L442.1,247.1L442.5,246.9L442.8,246.8L443.1,246.7L443.4,246.5L443.7,246.4L443.9,246.3L444.2,246.2" fill="none" stroke="#fff" stroke-opacity="0.35" stroke-width="0.9" stroke-dasharray="0.7,1.5"/>
<path d="M352.7,309.2L352.9,309.1L353.2,309.1L353.5,309.0L353.8,309.0L354.2,308.9L354.5,308.8L354.9,308.7L355.3,308.6L355.8,308.5L356.2,308.4L356.6,308.3L357.1,308.2L357.5,308.1L358.0,308.0L358.5,307.9L358.9,307.8L359.4,307.6L359.9,307.5L360.4,307.4L360.8,307.2L361.3,307.1L361.8,306.9L362.3,306.8L362.7,306.6L363.2,306.5L363.7,306.3L364.1,306.2L364.6,306.0L365.1,305.8L365.5,305.6L366.0,305.5L366.5,305.3L366.9,305.1L367.4,304.9L367.9,304.7L368.3,304.5L368.8,304.3L369.2,304.1L369.7,303.9L370.1,303.7L370.6,303.5L371.0,303.2L371.5,303.0L371.9,302.8L372.4,302.6L372.8,302.4L373.3,302.1L373.7,301.9L374.1,301.7L374.6,301.4L375.0,301.2L375.5,300.9L375.9,300.7L376.3,300.5L376.8,300.2L377.2,300.0L377.7,299.7L378.1,299.5L378.5,299.2L379.0,299.0L379.4,298.8L379.8,298.5L380.3,298.3L380.7,298.0L381.1,297.8L381.6,297.5L382.0,297.3L382.4,297.0L382.9,296.7L383.3,296.5L383.7,296.2L384.1,296.0L384.6,295.7L385.0,295.5L385.4,295.2L385.9,295.0L386.3,294.7L386.7,294.5L387.2,294.2L387.6,293.9L388.0,293.7L388.4,293.4L388.9,293.2L389.3,292.9L389.7,292.7L390.2,292.4L390.6,292.1L391.0,291.9L391.4,291.6L391.9,291.4L392.3,291.1L392.7,290.9L393.2,290.6L393.6,290.3L394.0,290.1L394.4,289.8L394.9,289.6L395.3,289.3L395.7,289.1L396.2,288.8L396.6,288.5L397.0,288.3L397.4,288.0L397.9,287.8L398.3,287.5L398.7,287.2L399.2,287.0L399.6,286.7L400.0,286.5L400.4,286.2L400.9,285.9L401.3,285.7L401.7,285.4L402.1,285.2L402.6,284.9L403.0,284.6L403.4,284.4L403.8,284.1L404.3,283.8L404.7,283.6L405.1,283.3L405.5,283.1L406.0,282.8L406.4,282.5L406.8,282.3L407.2,282.0L407.7,281.7L408.1,281.5L408.5,281.2L408.9,281.0L409.4,280.7L409.8,280.4L410.2,280.2L410.6,279.9L411.1,279.6L411.5,279.4L411.9,279.1L412.3,278.9L412.8,278.6L413.2,278.3L413.6,278.1L414.0,277.8L414.5,277.5L414.9,277.3L415.3,277.0L415.7,276.7L416.1,276.4L416.6,276.2L417.0,275.9L417.4,275.6L417.8,275.4L418.2,275.1L418.7,274.8L419.1,274.5L419.5,274.3L419.9,274.0L420.3,273.7L420.7,273.4L421.2,273.2L421.6,272.9L422.0,272.6L422.4,272.4L422.8,272.1L423.3,271.8L423.7,271.6L424.1,271.3L424.5,271.0L425.0,270.8L425.4,270.5L425.8,270.2L426.2,270.0L426.7,269.7L427.1,269.5L427.5,269.2L428.0,268.9L428.4,268.7L428.8,268.4L429.2,268.2L429.7,267.9L430.1,267.6L430.5,267.4L430.9,267.1L431.4,266.8L431.8,266.6L432.2,266.3L432.6,266.1L433.1,265.8L433.5,265.5L433.9,265.3L434.3,265.0L434.8,264.8L435.2,264.5L435.6,264.2L436.0,264.0L436.5,263.7L436.9,263.5L437.3,263.3L437.8,263.0L438.2,262.8L438.6,262.6L439.1,262.4L439.5,262.2L439.9,262.0L440.3,261.8L440.7,261.6L441.1,261.4L441.5,261.2L441.9,261.0L442.3,260.9L442.6,260.7L442.9,260.6L443.2,260.4L443.5,260.3L443.8,260.2L444.0,260.1" fill="none" stroke="#3468c2" stroke-width="3.2" stroke-linecap="round"/>
<path d="M352.7,309.2L352.9,309.1L353.2,309.1L353.5,309.0L353.8,309.0L354.2,308.9L354.5,308.8L354.9,308.7L355.3,308.6L355.8,308.5L356.2,308.4L356.6,308.3L357.1,308.2L357.5,308.1L358.0,308.0L358.5,307.9L358.9,307.8L359.4,307.6L359.9,307.5L360.4,307.4L360.8,307.2L361.3,307.1L361.8,306.9L362.3,306.8L362.7,306.6L363.2,306.5L363.7,306.3L364.1,306.2L364.6,306.0L365.1,305.8L365.5,305.6L366.0,305.5L366.5,305.3L366.9,305.1L367.4,304.9L367.9,304.7L368.3,304.5L368.8,304.3L369.2,304.1L369.7,303.9L370.1,303.7L370.6,303.5L371.0,303.2L371.5,303.0L371.9,302.8L372.4,302.6L372.8,302.4L373.3,302.1L373.7,301.9L374.1,301.7L374.6,301.4L375.0,301.2L375.5,300.9L375.9,300.7L376.3,300.5L376.8,300.2L377.2,300.0L377.7,299.7L378.1,299.5L378.5,299.2L379.0,299.0L379.4,298.8L379.8,298.5L380.3,298.3L380.7,298.0L381.1,297.8L381.6,297.5L382.0,297.3L382.4,297.0L382.9,296.7L383.3,296.5L383.7,296.2L384.1,296.0L384.6,295.7L385.0,295.5L385.4,295.2L385.9,295.0L386.3,294.7L386.7,294.5L387.2,294.2L387.6,293.9L388.0,293.7L388.4,293.4L388.9,293.2L389.3,292.9L389.7,292.7L390.2,292.4L390.6,292.1L391.0,291.9L391.4,291.6L391.9,291.4L392.3,291.1L392.7,290.9L393.2,290.6L393.6,290.3L394.0,290.1L394.4,289.8L394.9,289.6L395.3,289.3L395.7,289.1L396.2,288.8L396.6,288.5L397.0,288.3L397.4,288.0L397.9,287.8L398.3,287.5L398.7,287.2L399.2,287.0L399.6,286.7L400.0,286.5L400.4,286.2L400.9,285.9L401.3,285.7L401.7,285.4L402.1,285.2L402.6,284.9L403.0,284.6L403.4,284.4L403.8,284.1L404.3,283.8L404.7,283.6L405.1,283.3L405.5,283.1L406.0,282.8L406.4,282.5L406.8,282.3L407.2,282.0L407.7,281.7L408.1,281.5L408.5,281.2L408.9,281.0L409.4,280.7L409.8,280.4L410.2,280.2L410.6,279.9L411.1,279.6L411.5,279.4L411.9,279.1L412.3,278.9L412.8,278.6L413.2,278.3L413.6,278.1L414.0,277.8L414.5,277.5L414.9,277.3L415.3,277.0L415.7,276.7L416.1,276.4L416.6,276.2L417.0,275.9L417.4,275.6L417.8,275.4L418.2,275.1L418.7,274.8L419.1,274.5L419.5,274.3L419.9,274.0L420.3,273.7L420.7,273.4L421.2,273.2L421.6,272.9L422.0,272.6L422.4,272.4L422.8,272.1L423.3,271.8L423.7,271.6L424.1,271.3L424.5,271.0L425.0,270.8L425.4,270.5L425.8,270.2L426.2,270.0L426.7,269.7L427.1,269.5L427.5,269.2L428.0,268.9L428.4,268.7L428.8,268.4L429.2,268.2L429.7,267.9L430.1,267.6L430.5,267.4L430.9,267.1L431.4,266.8L431.8,266.6L432.2,266.3L432.6,266.1L433.1,265.8L433.5,265.5L433.9,265.3L434.3,265.0L434.8,264.8L435.2,264.5L435.6,264.2L436.0,264.0L436.5,263.7L436.9,263.5L437.3,263.3L437.8,263.0L438.2,262.8L438.6,262.6L439.1,262.4L439.5,262.2L439.9,262.0L440.3,261.8L440.7,261.6L441.1,261.4L441.5,261.2L441.9,261.0L442.3,260.9L442.6,260.7L442.9,260.6L443.2,260.4L443.5,260.3L443.8,260.2L444.0,260.1" fill="none" stroke="#fff" stroke-opacity="0.35" stroke-width="0.9" stroke-dasharray="0.7,1.5"/>
<line x1="294.5" y1="356" x2="374.5" y2="304.3" stroke="#3468c2" stroke-width="1.1" stroke-dasharray="2.5,2.2"/>
<line x1="307" y1="356" x2="377.5" y2="298.2" stroke="#e6444a" stroke-width="1.1" stroke-dasharray="2.5,2.2"/>
<text x="276.2" y="351" font-size="10" text-anchor="start" font-weight="bold" fill="#3a6ac8" stroke="#3a6ac8" stroke-width="0.22" >-0.53</text>
<text x="323.8" y="353.6" font-size="10" text-anchor="start" font-weight="bold" fill="#e6444a" stroke="#e6444a" stroke-width="0.22" >-0.42</text>
<text x="363.3" y="271.5" font-size="10" text-anchor="start" font-weight="bold" fill="#e6444a" stroke="#e6444a" stroke-width="0.22" >CeO<tspan font-size="6.6" dy="2.9">2</tspan><tspan dy="-2.9">/ZIS</tspan></text>
<text x="394.8" y="301" font-size="10" text-anchor="start" font-weight="bold" fill="#3468c2" stroke="#3468c2" stroke-width="0.22" >CeO<tspan font-size="6.6" dy="2.9">2</tspan><tspan dy="-2.9">/ZCIS</tspan></text>
<text x="476.3" y="211.5" font-size="16.5" text-anchor="start" font-weight="bold" fill="#000" stroke="#000" stroke-width="0.22" >f</text>
<line x1="499.2" y1="222" x2="499.2" y2="368" stroke="#111" stroke-width="1.8"/>
<path d="M494.9,225.5 L499.2,212 L503.5,225.5 Z" fill="#111"/>
<text x="489.4" y="281.2" font-size="11.8" text-anchor="middle" font-weight="bold" fill="#151515" textLength="94" lengthAdjust="spacingAndGlyphs" transform="rotate(-90 489.4 281.2)">Electron Energy</text>
<defs><linearGradient id="cb" x1="0" y1="0" x2="0" y2="1"><stop offset="0" stop-color="#f8f5ec"/><stop offset="0.2" stop-color="#ede4c8"/><stop offset="0.6" stop-color="#c8ad5c"/><stop offset="1" stop-color="#a68a2c"/></linearGradient><linearGradient id="vb" x1="0" y1="0" x2="0" y2="1"><stop offset="0" stop-color="#26b068"/><stop offset="0.35" stop-color="#4cbd82"/><stop offset="1" stop-color="#f6fbf8"/></linearGradient></defs>
<line x1="511" y1="274.5" x2="659" y2="274.5" stroke="#f2a2a2" stroke-width="1"/>
<rect x="510.2" y="229.7" width="32.3" height="23.6" fill="url(#cb)"/>
<rect x="568.7" y="222.4" width="26.5" height="23.9" fill="url(#cb)"/>
<rect x="627.1" y="239.8" width="32.6" height="24.2" fill="url(#cb)"/>
<rect x="510" y="321.1" width="32.9" height="23.3" fill="url(#vb)"/>
<rect x="568.9" y="312.2" width="32.7" height="24.2" fill="url(#vb)"/>
<rect x="626.5" y="344.9" width="33.1" height="24.1" fill="url(#vb)"/>
<text x="515.5" y="246" font-size="11" text-anchor="start" font-weight="bold" fill="#1a1a1a" textLength="13.5" lengthAdjust="spacingAndGlyphs">CB</text>
<text x="576.5" y="243.6" font-size="11" text-anchor="start" font-weight="bold" fill="#1a1a1a" textLength="14.2" lengthAdjust="spacingAndGlyphs">CB</text>
<text x="633.8" y="252.5" font-size="11" text-anchor="start" font-weight="bold" fill="#1a1a1a" textLength="13.2" lengthAdjust="spacingAndGlyphs">CB</text>
<text x="520.3" y="333.8" font-size="11" text-anchor="start" font-weight="bold" fill="#1a1a1a" textLength="13" lengthAdjust="spacingAndGlyphs">VB</text>
<text x="579.3" y="324.8" font-size="11" text-anchor="start" font-weight="bold" fill="#1a1a1a" textLength="12.5" lengthAdjust="spacingAndGlyphs">VB</text>
<text x="638.4" y="357.3" font-size="11" text-anchor="start" font-weight="bold" fill="#1a1a1a" textLength="13.6" lengthAdjust="spacingAndGlyphs">VB</text>
<text x="513.6" y="219.3" font-size="12.5" text-anchor="start" font-weight="bold" fill="#1a1a1a" textLength="17" lengthAdjust="spacingAndGlyphs">ZIS</text>
<text x="570.3" y="214.8" font-size="12.5" text-anchor="start" font-weight="bold" fill="#1a1a1a" textLength="25" lengthAdjust="spacingAndGlyphs">ZCIS</text>
<text x="629.4" y="232.4" font-size="12.5" text-anchor="start" font-weight="bold" fill="#1a1a1a" textLength="22" lengthAdjust="spacingAndGlyphs">CeO</text>
<text x="651.5" y="235.6" font-size="8" text-anchor="start" font-weight="bold" fill="#1a1a1a" textLength="5" lengthAdjust="spacingAndGlyphs">2</text>
<text x="661.6" y="277" font-size="10" text-anchor="start" font-weight="bold" fill="#1a1a1a" textLength="7" lengthAdjust="spacingAndGlyphs">H</text>
<text x="668.2" y="272.5" font-size="6" text-anchor="start" font-weight="bold" fill="#1a1a1a" textLength="3.5" lengthAdjust="spacingAndGlyphs">+</text>
<text x="671.5" y="277" font-size="10" text-anchor="start" font-weight="bold" fill="#1a1a1a" textLength="8.5" lengthAdjust="spacingAndGlyphs">/H</text>
<text x="679.8" y="280" font-size="6.5" text-anchor="start" font-weight="bold" fill="#1a1a1a" textLength="3.5" lengthAdjust="spacingAndGlyphs">2</text>
<line x1="542.5" y1="253.4" x2="570" y2="253.4" stroke="#333" stroke-width="0.8"/>
<line x1="595.2" y1="246.4" x2="620" y2="246.4" stroke="#333" stroke-width="0.8"/>
<line x1="614.8" y1="264.2" x2="635.5" y2="264.2" stroke="#333" stroke-width="0.8"/>
<text x="543.2" y="252.3" font-size="8" text-anchor="start" font-weight="bold" fill="#333" textLength="21.5" lengthAdjust="spacingAndGlyphs">0.12 eV</text>
<text x="592" y="258.3" font-size="8" text-anchor="start" font-weight="bold" fill="#333" textLength="21.5" lengthAdjust="spacingAndGlyphs">0.33 eV</text>
<line x1="567.5" y1="252" x2="567.5" y2="248" stroke="#333" stroke-width="0.6"/>
<path d="M566.3,249.2 L567.5,247.3 L568.7,249.2" fill="none" stroke="#333" stroke-width="0.6"/>
<line x1="617" y1="248" x2="617" y2="262" stroke="#999" stroke-width="0.8"/>
<path d="M615.3,250 L617,246.8 L618.7,250" fill="none" stroke="#999" stroke-width="0.7"/>
<path d="M615.3,260.5 L617,263.7 L618.7,260.5" fill="none" stroke="#999" stroke-width="0.7"/>
<line x1="519.7" y1="256.2" x2="519.7" y2="318.3" stroke="#3a3a3a" stroke-width="1"/>
<path d="M517.5,260.2 L519.7,254.2 L521.9000000000001,260.2 L519.7,258.2 Z" fill="#3a3a3a"/>
<path d="M517.5,314.3 L519.7,320.3 L521.9000000000001,314.3 L519.7,316.3 Z" fill="#3a3a3a"/>
<line x1="576.2" y1="249.6" x2="576.2" y2="309.3" stroke="#3a3a3a" stroke-width="1"/>
<path d="M574.0,253.6 L576.2,247.6 L578.4000000000001,253.6 L576.2,251.6 Z" fill="#3a3a3a"/>
<path d="M574.0,305.3 L576.2,311.3 L578.4000000000001,305.3 L576.2,307.3 Z" fill="#3a3a3a"/>
<line x1="638.1" y1="267" x2="638.1" y2="342.2" stroke="#3a3a3a" stroke-width="1"/>
<path d="M635.9,271 L638.1,265 L640.3000000000001,271 L638.1,269 Z" fill="#3a3a3a"/>
<path d="M635.9,338.2 L638.1,344.2 L640.3000000000001,338.2 L638.1,340.2 Z" fill="#3a3a3a"/>
<text x="520.4" y="296.2" font-size="10.5" text-anchor="start" font-weight="bold" fill="#1a1a1a" textLength="29.5" lengthAdjust="spacingAndGlyphs">2.09 eV</text>
<text x="579.8" y="293.2" font-size="10.5" text-anchor="start" font-weight="bold" fill="#1a1a1a" textLength="30.5" lengthAdjust="spacingAndGlyphs">2.00 eV</text>
<text x="641.2" y="301" font-size="10.5" text-anchor="start" font-weight="bold" fill="#1a1a1a" textLength="30.8" lengthAdjust="spacingAndGlyphs">2.95 eV</text>
</svg></body></html>
